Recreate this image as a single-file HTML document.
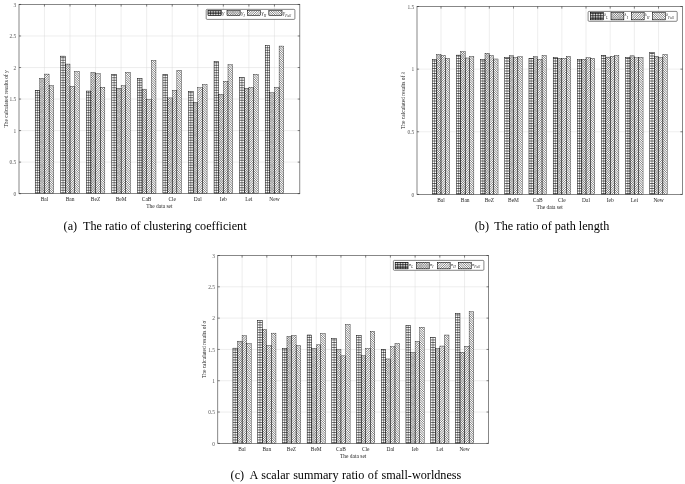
<!DOCTYPE html>
<html><head><meta charset="utf-8"><title>Figure</title>
<style>
html,body{margin:0;padding:0;background:#fff;}
svg{display:block;}
text{font-family:"Liberation Serif",serif;fill:#262626;}
.t{font-size:5.45px;}
.cap{font-size:12.2px;fill:#000;}
.n{fill:#555;}
.h{stroke:#000;fill:none;}
</style></head><body>
<svg width="685" height="484" viewBox="0 0 685 484">
<rect width="685" height="484" fill="#fff"/>

<g>
<path d="M44.45 4.45V193.65M70.01 4.45V193.65M95.56 4.45V193.65M121.12 4.45V193.65M146.67 4.45V193.65M172.23 4.45V193.65M197.79 4.45V193.65M223.34 4.45V193.65M248.9 4.45V193.65M274.45 4.45V193.65M19 162.12H299.8M19 130.58H299.8M19 99.05H299.8M19 67.52H299.8M19 35.98H299.8" stroke="#d8d8d8" stroke-width="0.45" fill="none"/>
<rect x="206.2" y="9.35" width="88.7" height="10.05" rx="1" fill="#fff" stroke="#333" stroke-width="0.6"/>
<g fill="#fff"><rect x="35.16" y="90.22" width="4.64" height="103.43"/><rect x="60.72" y="56.1" width="4.64" height="137.55"/><rect x="86.27" y="91.04" width="4.64" height="102.61"/><rect x="111.83" y="74.26" width="4.64" height="119.39"/><rect x="137.38" y="78.36" width="4.64" height="115.29"/><rect x="162.94" y="74.26" width="4.64" height="119.39"/><rect x="188.5" y="91.23" width="4.64" height="102.42"/><rect x="214.05" y="61.4" width="4.64" height="132.25"/><rect x="239.61" y="77.54" width="4.64" height="116.11"/><rect x="265.16" y="45.7" width="4.64" height="147.95"/><rect x="208" y="10.75" width="13.1" height="4.85"/><rect x="39.81" y="78.36" width="4.64" height="115.29"/><rect x="65.36" y="64.05" width="4.64" height="129.6"/><rect x="90.92" y="72.44" width="4.64" height="121.21"/><rect x="116.47" y="88.33" width="4.64" height="105.32"/><rect x="142.03" y="89.15" width="4.64" height="104.5"/><rect x="167.59" y="97.91" width="4.64" height="95.74"/><rect x="193.14" y="102.2" width="4.64" height="91.45"/><rect x="218.7" y="94.32" width="4.64" height="99.33"/><rect x="244.25" y="88.33" width="4.64" height="105.32"/><rect x="269.81" y="92.81" width="4.64" height="100.84"/><rect x="227" y="10.75" width="13.1" height="4.85"/><rect x="44.45" y="74.08" width="4.64" height="119.57"/><rect x="70.01" y="86.31" width="4.64" height="107.34"/><rect x="95.56" y="73.63" width="4.64" height="120.02"/><rect x="121.12" y="85.74" width="4.64" height="107.91"/><rect x="146.67" y="99.43" width="4.64" height="94.22"/><rect x="172.23" y="90.22" width="4.64" height="103.43"/><rect x="197.79" y="87.7" width="4.64" height="105.95"/><rect x="223.34" y="81.2" width="4.64" height="112.45"/><rect x="248.9" y="87.32" width="4.64" height="106.33"/><rect x="274.45" y="87.32" width="4.64" height="106.33"/><rect x="247.4" y="10.75" width="13.1" height="4.85"/><rect x="49.09" y="85.55" width="4.64" height="108.1"/><rect x="74.65" y="71.62" width="4.64" height="122.03"/><rect x="100.21" y="87.32" width="4.64" height="106.33"/><rect x="125.76" y="72.25" width="4.64" height="121.4"/><rect x="151.32" y="60.58" width="4.64" height="133.07"/><rect x="176.87" y="70.35" width="4.64" height="123.3"/><rect x="202.43" y="84.42" width="4.64" height="109.23"/><rect x="227.99" y="64.68" width="4.64" height="128.97"/><rect x="253.54" y="74.26" width="4.64" height="119.39"/><rect x="279.1" y="46.07" width="4.64" height="147.58"/><rect x="268.9" y="10.75" width="13.1" height="4.85"/></g>
<defs>
<clipPath id="c00"><rect x="35.16" y="90.22" width="4.64" height="103.43"/><rect x="60.72" y="56.1" width="4.64" height="137.55"/><rect x="86.27" y="91.04" width="4.64" height="102.61"/><rect x="111.83" y="74.26" width="4.64" height="119.39"/><rect x="137.38" y="78.36" width="4.64" height="115.29"/><rect x="162.94" y="74.26" width="4.64" height="119.39"/><rect x="188.5" y="91.23" width="4.64" height="102.42"/><rect x="214.05" y="61.4" width="4.64" height="132.25"/><rect x="239.61" y="77.54" width="4.64" height="116.11"/><rect x="265.16" y="45.7" width="4.64" height="147.95"/><rect x="208" y="10.75" width="13.1" height="4.85"/></clipPath>
<clipPath id="c01"><rect x="39.81" y="78.36" width="4.64" height="115.29"/><rect x="65.36" y="64.05" width="4.64" height="129.6"/><rect x="90.92" y="72.44" width="4.64" height="121.21"/><rect x="116.47" y="88.33" width="4.64" height="105.32"/><rect x="142.03" y="89.15" width="4.64" height="104.5"/><rect x="167.59" y="97.91" width="4.64" height="95.74"/><rect x="193.14" y="102.2" width="4.64" height="91.45"/><rect x="218.7" y="94.32" width="4.64" height="99.33"/><rect x="244.25" y="88.33" width="4.64" height="105.32"/><rect x="269.81" y="92.81" width="4.64" height="100.84"/><rect x="227" y="10.75" width="13.1" height="4.85"/></clipPath>
<clipPath id="c02"><rect x="44.45" y="74.08" width="4.64" height="119.57"/><rect x="70.01" y="86.31" width="4.64" height="107.34"/><rect x="95.56" y="73.63" width="4.64" height="120.02"/><rect x="121.12" y="85.74" width="4.64" height="107.91"/><rect x="146.67" y="99.43" width="4.64" height="94.22"/><rect x="172.23" y="90.22" width="4.64" height="103.43"/><rect x="197.79" y="87.7" width="4.64" height="105.95"/><rect x="223.34" y="81.2" width="4.64" height="112.45"/><rect x="248.9" y="87.32" width="4.64" height="106.33"/><rect x="274.45" y="87.32" width="4.64" height="106.33"/><rect x="247.4" y="10.75" width="13.1" height="4.85"/></clipPath>
<clipPath id="c03"><rect x="49.09" y="85.55" width="4.64" height="108.1"/><rect x="74.65" y="71.62" width="4.64" height="122.03"/><rect x="100.21" y="87.32" width="4.64" height="106.33"/><rect x="125.76" y="72.25" width="4.64" height="121.4"/><rect x="151.32" y="60.58" width="4.64" height="133.07"/><rect x="176.87" y="70.35" width="4.64" height="123.3"/><rect x="202.43" y="84.42" width="4.64" height="109.23"/><rect x="227.99" y="64.68" width="4.64" height="128.97"/><rect x="253.54" y="74.26" width="4.64" height="119.39"/><rect x="279.1" y="46.07" width="4.64" height="147.58"/><rect x="268.9" y="10.75" width="13.1" height="4.85"/></clipPath>
</defs>
<g clip-path="url(#c00)"><path class="h" stroke-width="0.58" d="M19 192.75H299.8M19 190.25H299.8M19 187.75H299.8M19 185.25H299.8M19 182.75H299.8M19 180.25H299.8M19 177.75H299.8M19 175.25H299.8M19 172.75H299.8M19 170.25H299.8M19 167.75H299.8M19 165.25H299.8M19 162.75H299.8M19 160.25H299.8M19 157.75H299.8M19 155.25H299.8M19 152.75H299.8M19 150.25H299.8M19 147.75H299.8M19 145.25H299.8M19 142.75H299.8M19 140.25H299.8M19 137.75H299.8M19 135.25H299.8M19 132.75H299.8M19 130.25H299.8M19 127.75H299.8M19 125.25H299.8M19 122.75H299.8M19 120.25H299.8M19 117.75H299.8M19 115.25H299.8M19 112.75H299.8M19 110.25H299.8M19 107.75H299.8M19 105.25H299.8M19 102.75H299.8M19 100.25H299.8M19 97.75H299.8M19 95.25H299.8M19 92.75H299.8M19 90.25H299.8M19 87.75H299.8M19 85.25H299.8M19 82.75H299.8M19 80.25H299.8M19 77.75H299.8M19 75.25H299.8M19 72.75H299.8M19 70.25H299.8M19 67.75H299.8M19 65.25H299.8M19 62.75H299.8M19 60.25H299.8M19 57.75H299.8M19 55.25H299.8M19 52.75H299.8M19 50.25H299.8M19 47.75H299.8M19 45.25H299.8M19 42.75H299.8M19 40.25H299.8M19 37.75H299.8M19 35.25H299.8M19 32.75H299.8M19 30.25H299.8M19 27.75H299.8M19 25.25H299.8M19 22.75H299.8M19 20.25H299.8M19 17.75H299.8M19 15.25H299.8M19 12.75H299.8M19 10.25H299.8"/><path class="h" stroke-width="0.4" d="M37.48 90.22V193.65M63.04 56.1V193.65M88.59 91.04V193.65M114.15 74.26V193.65M139.71 78.36V193.65M165.26 74.26V193.65M190.82 91.23V193.65M216.37 61.4V193.65M241.93 77.54V193.65M267.49 45.7V193.65"/><path class="h" stroke-width="0.6" d="M210.6 10.75V15.6M213.2 10.75V15.6M215.8 10.75V15.6M218.4 10.75V15.6M221 10.75V15.6M208 13.45H221.1M208 10.95H221.1"/></g>
<g clip-path="url(#c01)"><path class="h" stroke-width="0.35" d="M-164.9 193.65l183.9 -183.9M-162.6 193.65l183.9 -183.9M-160.3 193.65l183.9 -183.9M-158 193.65l183.9 -183.9M-155.7 193.65l183.9 -183.9M-153.4 193.65l183.9 -183.9M-151.1 193.65l183.9 -183.9M-148.8 193.65l183.9 -183.9M-146.5 193.65l183.9 -183.9M-144.2 193.65l183.9 -183.9M-141.9 193.65l183.9 -183.9M-139.6 193.65l183.9 -183.9M-137.3 193.65l183.9 -183.9M-135 193.65l183.9 -183.9M-132.7 193.65l183.9 -183.9M-130.4 193.65l183.9 -183.9M-128.1 193.65l183.9 -183.9M-125.8 193.65l183.9 -183.9M-123.5 193.65l183.9 -183.9M-121.2 193.65l183.9 -183.9M-118.9 193.65l183.9 -183.9M-116.6 193.65l183.9 -183.9M-114.3 193.65l183.9 -183.9M-112 193.65l183.9 -183.9M-109.7 193.65l183.9 -183.9M-107.4 193.65l183.9 -183.9M-105.1 193.65l183.9 -183.9M-102.8 193.65l183.9 -183.9M-100.5 193.65l183.9 -183.9M-98.2 193.65l183.9 -183.9M-95.9 193.65l183.9 -183.9M-93.6 193.65l183.9 -183.9M-91.3 193.65l183.9 -183.9M-89 193.65l183.9 -183.9M-86.7 193.65l183.9 -183.9M-84.4 193.65l183.9 -183.9M-82.1 193.65l183.9 -183.9M-79.8 193.65l183.9 -183.9M-77.5 193.65l183.9 -183.9M-75.2 193.65l183.9 -183.9M-72.9 193.65l183.9 -183.9M-70.6 193.65l183.9 -183.9M-68.3 193.65l183.9 -183.9M-66 193.65l183.9 -183.9M-63.7 193.65l183.9 -183.9M-61.4 193.65l183.9 -183.9M-59.1 193.65l183.9 -183.9M-56.8 193.65l183.9 -183.9M-54.5 193.65l183.9 -183.9M-52.2 193.65l183.9 -183.9M-49.9 193.65l183.9 -183.9M-47.6 193.65l183.9 -183.9M-45.3 193.65l183.9 -183.9M-43 193.65l183.9 -183.9M-40.7 193.65l183.9 -183.9M-38.4 193.65l183.9 -183.9M-36.1 193.65l183.9 -183.9M-33.8 193.65l183.9 -183.9M-31.5 193.65l183.9 -183.9M-29.2 193.65l183.9 -183.9M-26.9 193.65l183.9 -183.9M-24.6 193.65l183.9 -183.9M-22.3 193.65l183.9 -183.9M-20 193.65l183.9 -183.9M-17.7 193.65l183.9 -183.9M-15.4 193.65l183.9 -183.9M-13.1 193.65l183.9 -183.9M-10.8 193.65l183.9 -183.9M-8.5 193.65l183.9 -183.9M-6.2 193.65l183.9 -183.9M-3.9 193.65l183.9 -183.9M-1.6 193.65l183.9 -183.9M0.7 193.65l183.9 -183.9M3 193.65l183.9 -183.9M5.3 193.65l183.9 -183.9M7.6 193.65l183.9 -183.9M9.9 193.65l183.9 -183.9M12.2 193.65l183.9 -183.9M14.5 193.65l183.9 -183.9M16.8 193.65l183.9 -183.9M19.1 193.65l183.9 -183.9M21.4 193.65l183.9 -183.9M23.7 193.65l183.9 -183.9M26 193.65l183.9 -183.9M28.3 193.65l183.9 -183.9M30.6 193.65l183.9 -183.9M32.9 193.65l183.9 -183.9M35.2 193.65l183.9 -183.9M37.5 193.65l183.9 -183.9M39.8 193.65l183.9 -183.9M42.1 193.65l183.9 -183.9M44.4 193.65l183.9 -183.9M46.7 193.65l183.9 -183.9M49 193.65l183.9 -183.9M51.3 193.65l183.9 -183.9M53.6 193.65l183.9 -183.9M55.9 193.65l183.9 -183.9M58.2 193.65l183.9 -183.9M60.5 193.65l183.9 -183.9M62.8 193.65l183.9 -183.9M65.1 193.65l183.9 -183.9M67.4 193.65l183.9 -183.9M69.7 193.65l183.9 -183.9M72 193.65l183.9 -183.9M74.3 193.65l183.9 -183.9M76.6 193.65l183.9 -183.9M78.9 193.65l183.9 -183.9M81.2 193.65l183.9 -183.9M83.5 193.65l183.9 -183.9M85.8 193.65l183.9 -183.9M88.1 193.65l183.9 -183.9M90.4 193.65l183.9 -183.9M92.7 193.65l183.9 -183.9M95 193.65l183.9 -183.9M97.3 193.65l183.9 -183.9M99.6 193.65l183.9 -183.9M101.9 193.65l183.9 -183.9M104.2 193.65l183.9 -183.9M106.5 193.65l183.9 -183.9M108.8 193.65l183.9 -183.9M111.1 193.65l183.9 -183.9M113.4 193.65l183.9 -183.9M115.7 193.65l183.9 -183.9M118 193.65l183.9 -183.9M120.3 193.65l183.9 -183.9M122.6 193.65l183.9 -183.9M124.9 193.65l183.9 -183.9M127.2 193.65l183.9 -183.9M129.5 193.65l183.9 -183.9M131.8 193.65l183.9 -183.9M134.1 193.65l183.9 -183.9M136.4 193.65l183.9 -183.9M138.7 193.65l183.9 -183.9M141 193.65l183.9 -183.9M143.3 193.65l183.9 -183.9M145.6 193.65l183.9 -183.9M147.9 193.65l183.9 -183.9M150.2 193.65l183.9 -183.9M152.5 193.65l183.9 -183.9M154.8 193.65l183.9 -183.9M157.1 193.65l183.9 -183.9M159.4 193.65l183.9 -183.9M161.7 193.65l183.9 -183.9M164 193.65l183.9 -183.9M166.3 193.65l183.9 -183.9M168.6 193.65l183.9 -183.9M170.9 193.65l183.9 -183.9M173.2 193.65l183.9 -183.9M175.5 193.65l183.9 -183.9M177.8 193.65l183.9 -183.9M180.1 193.65l183.9 -183.9M182.4 193.65l183.9 -183.9M184.7 193.65l183.9 -183.9M187 193.65l183.9 -183.9M189.3 193.65l183.9 -183.9M191.6 193.65l183.9 -183.9M193.9 193.65l183.9 -183.9M196.2 193.65l183.9 -183.9M198.5 193.65l183.9 -183.9M200.8 193.65l183.9 -183.9M203.1 193.65l183.9 -183.9M205.4 193.65l183.9 -183.9M207.7 193.65l183.9 -183.9M210 193.65l183.9 -183.9M212.3 193.65l183.9 -183.9M214.6 193.65l183.9 -183.9M216.9 193.65l183.9 -183.9M219.2 193.65l183.9 -183.9M221.5 193.65l183.9 -183.9M223.8 193.65l183.9 -183.9M226.1 193.65l183.9 -183.9M228.4 193.65l183.9 -183.9M230.7 193.65l183.9 -183.9M233 193.65l183.9 -183.9M235.3 193.65l183.9 -183.9M237.6 193.65l183.9 -183.9M239.9 193.65l183.9 -183.9M242.2 193.65l183.9 -183.9M244.5 193.65l183.9 -183.9M246.8 193.65l183.9 -183.9M249.1 193.65l183.9 -183.9M251.4 193.65l183.9 -183.9M253.7 193.65l183.9 -183.9M256 193.65l183.9 -183.9M258.3 193.65l183.9 -183.9M260.6 193.65l183.9 -183.9M262.9 193.65l183.9 -183.9M265.2 193.65l183.9 -183.9M267.5 193.65l183.9 -183.9M269.8 193.65l183.9 -183.9M272.1 193.65l183.9 -183.9M274.4 193.65l183.9 -183.9M276.7 193.65l183.9 -183.9M279 193.65l183.9 -183.9M281.3 193.65l183.9 -183.9M283.6 193.65l183.9 -183.9M285.9 193.65l183.9 -183.9M288.2 193.65l183.9 -183.9M290.5 193.65l183.9 -183.9M292.8 193.65l183.9 -183.9M295.1 193.65l183.9 -183.9M297.4 193.65l183.9 -183.9M299.7 193.65l183.9 -183.9M-164.9 9.75l183.9 183.9M-162.6 9.75l183.9 183.9M-160.3 9.75l183.9 183.9M-158 9.75l183.9 183.9M-155.7 9.75l183.9 183.9M-153.4 9.75l183.9 183.9M-151.1 9.75l183.9 183.9M-148.8 9.75l183.9 183.9M-146.5 9.75l183.9 183.9M-144.2 9.75l183.9 183.9M-141.9 9.75l183.9 183.9M-139.6 9.75l183.9 183.9M-137.3 9.75l183.9 183.9M-135 9.75l183.9 183.9M-132.7 9.75l183.9 183.9M-130.4 9.75l183.9 183.9M-128.1 9.75l183.9 183.9M-125.8 9.75l183.9 183.9M-123.5 9.75l183.9 183.9M-121.2 9.75l183.9 183.9M-118.9 9.75l183.9 183.9M-116.6 9.75l183.9 183.9M-114.3 9.75l183.9 183.9M-112 9.75l183.9 183.9M-109.7 9.75l183.9 183.9M-107.4 9.75l183.9 183.9M-105.1 9.75l183.9 183.9M-102.8 9.75l183.9 183.9M-100.5 9.75l183.9 183.9M-98.2 9.75l183.9 183.9M-95.9 9.75l183.9 183.9M-93.6 9.75l183.9 183.9M-91.3 9.75l183.9 183.9M-89 9.75l183.9 183.9M-86.7 9.75l183.9 183.9M-84.4 9.75l183.9 183.9M-82.1 9.75l183.9 183.9M-79.8 9.75l183.9 183.9M-77.5 9.75l183.9 183.9M-75.2 9.75l183.9 183.9M-72.9 9.75l183.9 183.9M-70.6 9.75l183.9 183.9M-68.3 9.75l183.9 183.9M-66 9.75l183.9 183.9M-63.7 9.75l183.9 183.9M-61.4 9.75l183.9 183.9M-59.1 9.75l183.9 183.9M-56.8 9.75l183.9 183.9M-54.5 9.75l183.9 183.9M-52.2 9.75l183.9 183.9M-49.9 9.75l183.9 183.9M-47.6 9.75l183.9 183.9M-45.3 9.75l183.9 183.9M-43 9.75l183.9 183.9M-40.7 9.75l183.9 183.9M-38.4 9.75l183.9 183.9M-36.1 9.75l183.9 183.9M-33.8 9.75l183.9 183.9M-31.5 9.75l183.9 183.9M-29.2 9.75l183.9 183.9M-26.9 9.75l183.9 183.9M-24.6 9.75l183.9 183.9M-22.3 9.75l183.9 183.9M-20 9.75l183.9 183.9M-17.7 9.75l183.9 183.9M-15.4 9.75l183.9 183.9M-13.1 9.75l183.9 183.9M-10.8 9.75l183.9 183.9M-8.5 9.75l183.9 183.9M-6.2 9.75l183.9 183.9M-3.9 9.75l183.9 183.9M-1.6 9.75l183.9 183.9M0.7 9.75l183.9 183.9M3 9.75l183.9 183.9M5.3 9.75l183.9 183.9M7.6 9.75l183.9 183.9M9.9 9.75l183.9 183.9M12.2 9.75l183.9 183.9M14.5 9.75l183.9 183.9M16.8 9.75l183.9 183.9M19.1 9.75l183.9 183.9M21.4 9.75l183.9 183.9M23.7 9.75l183.9 183.9M26 9.75l183.9 183.9M28.3 9.75l183.9 183.9M30.6 9.75l183.9 183.9M32.9 9.75l183.9 183.9M35.2 9.75l183.9 183.9M37.5 9.75l183.9 183.9M39.8 9.75l183.9 183.9M42.1 9.75l183.9 183.9M44.4 9.75l183.9 183.9M46.7 9.75l183.9 183.9M49 9.75l183.9 183.9M51.3 9.75l183.9 183.9M53.6 9.75l183.9 183.9M55.9 9.75l183.9 183.9M58.2 9.75l183.9 183.9M60.5 9.75l183.9 183.9M62.8 9.75l183.9 183.9M65.1 9.75l183.9 183.9M67.4 9.75l183.9 183.9M69.7 9.75l183.9 183.9M72 9.75l183.9 183.9M74.3 9.75l183.9 183.9M76.6 9.75l183.9 183.9M78.9 9.75l183.9 183.9M81.2 9.75l183.9 183.9M83.5 9.75l183.9 183.9M85.8 9.75l183.9 183.9M88.1 9.75l183.9 183.9M90.4 9.75l183.9 183.9M92.7 9.75l183.9 183.9M95 9.75l183.9 183.9M97.3 9.75l183.9 183.9M99.6 9.75l183.9 183.9M101.9 9.75l183.9 183.9M104.2 9.75l183.9 183.9M106.5 9.75l183.9 183.9M108.8 9.75l183.9 183.9M111.1 9.75l183.9 183.9M113.4 9.75l183.9 183.9M115.7 9.75l183.9 183.9M118 9.75l183.9 183.9M120.3 9.75l183.9 183.9M122.6 9.75l183.9 183.9M124.9 9.75l183.9 183.9M127.2 9.75l183.9 183.9M129.5 9.75l183.9 183.9M131.8 9.75l183.9 183.9M134.1 9.75l183.9 183.9M136.4 9.75l183.9 183.9M138.7 9.75l183.9 183.9M141 9.75l183.9 183.9M143.3 9.75l183.9 183.9M145.6 9.75l183.9 183.9M147.9 9.75l183.9 183.9M150.2 9.75l183.9 183.9M152.5 9.75l183.9 183.9M154.8 9.75l183.9 183.9M157.1 9.75l183.9 183.9M159.4 9.75l183.9 183.9M161.7 9.75l183.9 183.9M164 9.75l183.9 183.9M166.3 9.75l183.9 183.9M168.6 9.75l183.9 183.9M170.9 9.75l183.9 183.9M173.2 9.75l183.9 183.9M175.5 9.75l183.9 183.9M177.8 9.75l183.9 183.9M180.1 9.75l183.9 183.9M182.4 9.75l183.9 183.9M184.7 9.75l183.9 183.9M187 9.75l183.9 183.9M189.3 9.75l183.9 183.9M191.6 9.75l183.9 183.9M193.9 9.75l183.9 183.9M196.2 9.75l183.9 183.9M198.5 9.75l183.9 183.9M200.8 9.75l183.9 183.9M203.1 9.75l183.9 183.9M205.4 9.75l183.9 183.9M207.7 9.75l183.9 183.9M210 9.75l183.9 183.9M212.3 9.75l183.9 183.9M214.6 9.75l183.9 183.9M216.9 9.75l183.9 183.9M219.2 9.75l183.9 183.9M221.5 9.75l183.9 183.9M223.8 9.75l183.9 183.9M226.1 9.75l183.9 183.9M228.4 9.75l183.9 183.9M230.7 9.75l183.9 183.9M233 9.75l183.9 183.9M235.3 9.75l183.9 183.9M237.6 9.75l183.9 183.9M239.9 9.75l183.9 183.9M242.2 9.75l183.9 183.9M244.5 9.75l183.9 183.9M246.8 9.75l183.9 183.9M249.1 9.75l183.9 183.9M251.4 9.75l183.9 183.9M253.7 9.75l183.9 183.9M256 9.75l183.9 183.9M258.3 9.75l183.9 183.9M260.6 9.75l183.9 183.9M262.9 9.75l183.9 183.9M265.2 9.75l183.9 183.9M267.5 9.75l183.9 183.9M269.8 9.75l183.9 183.9M272.1 9.75l183.9 183.9M274.4 9.75l183.9 183.9M276.7 9.75l183.9 183.9M279 9.75l183.9 183.9M281.3 9.75l183.9 183.9M283.6 9.75l183.9 183.9M285.9 9.75l183.9 183.9M288.2 9.75l183.9 183.9M290.5 9.75l183.9 183.9M292.8 9.75l183.9 183.9M295.1 9.75l183.9 183.9M297.4 9.75l183.9 183.9M299.7 9.75l183.9 183.9"/></g>
<g clip-path="url(#c02)"><path class="h" stroke-width="0.5" d="M-164.9 193.65l183.9 -183.9M-162.6 193.65l183.9 -183.9M-160.3 193.65l183.9 -183.9M-158 193.65l183.9 -183.9M-155.7 193.65l183.9 -183.9M-153.4 193.65l183.9 -183.9M-151.1 193.65l183.9 -183.9M-148.8 193.65l183.9 -183.9M-146.5 193.65l183.9 -183.9M-144.2 193.65l183.9 -183.9M-141.9 193.65l183.9 -183.9M-139.6 193.65l183.9 -183.9M-137.3 193.65l183.9 -183.9M-135 193.65l183.9 -183.9M-132.7 193.65l183.9 -183.9M-130.4 193.65l183.9 -183.9M-128.1 193.65l183.9 -183.9M-125.8 193.65l183.9 -183.9M-123.5 193.65l183.9 -183.9M-121.2 193.65l183.9 -183.9M-118.9 193.65l183.9 -183.9M-116.6 193.65l183.9 -183.9M-114.3 193.65l183.9 -183.9M-112 193.65l183.9 -183.9M-109.7 193.65l183.9 -183.9M-107.4 193.65l183.9 -183.9M-105.1 193.65l183.9 -183.9M-102.8 193.65l183.9 -183.9M-100.5 193.65l183.9 -183.9M-98.2 193.65l183.9 -183.9M-95.9 193.65l183.9 -183.9M-93.6 193.65l183.9 -183.9M-91.3 193.65l183.9 -183.9M-89 193.65l183.9 -183.9M-86.7 193.65l183.9 -183.9M-84.4 193.65l183.9 -183.9M-82.1 193.65l183.9 -183.9M-79.8 193.65l183.9 -183.9M-77.5 193.65l183.9 -183.9M-75.2 193.65l183.9 -183.9M-72.9 193.65l183.9 -183.9M-70.6 193.65l183.9 -183.9M-68.3 193.65l183.9 -183.9M-66 193.65l183.9 -183.9M-63.7 193.65l183.9 -183.9M-61.4 193.65l183.9 -183.9M-59.1 193.65l183.9 -183.9M-56.8 193.65l183.9 -183.9M-54.5 193.65l183.9 -183.9M-52.2 193.65l183.9 -183.9M-49.9 193.65l183.9 -183.9M-47.6 193.65l183.9 -183.9M-45.3 193.65l183.9 -183.9M-43 193.65l183.9 -183.9M-40.7 193.65l183.9 -183.9M-38.4 193.65l183.9 -183.9M-36.1 193.65l183.9 -183.9M-33.8 193.65l183.9 -183.9M-31.5 193.65l183.9 -183.9M-29.2 193.65l183.9 -183.9M-26.9 193.65l183.9 -183.9M-24.6 193.65l183.9 -183.9M-22.3 193.65l183.9 -183.9M-20 193.65l183.9 -183.9M-17.7 193.65l183.9 -183.9M-15.4 193.65l183.9 -183.9M-13.1 193.65l183.9 -183.9M-10.8 193.65l183.9 -183.9M-8.5 193.65l183.9 -183.9M-6.2 193.65l183.9 -183.9M-3.9 193.65l183.9 -183.9M-1.6 193.65l183.9 -183.9M0.7 193.65l183.9 -183.9M3 193.65l183.9 -183.9M5.3 193.65l183.9 -183.9M7.6 193.65l183.9 -183.9M9.9 193.65l183.9 -183.9M12.2 193.65l183.9 -183.9M14.5 193.65l183.9 -183.9M16.8 193.65l183.9 -183.9M19.1 193.65l183.9 -183.9M21.4 193.65l183.9 -183.9M23.7 193.65l183.9 -183.9M26 193.65l183.9 -183.9M28.3 193.65l183.9 -183.9M30.6 193.65l183.9 -183.9M32.9 193.65l183.9 -183.9M35.2 193.65l183.9 -183.9M37.5 193.65l183.9 -183.9M39.8 193.65l183.9 -183.9M42.1 193.65l183.9 -183.9M44.4 193.65l183.9 -183.9M46.7 193.65l183.9 -183.9M49 193.65l183.9 -183.9M51.3 193.65l183.9 -183.9M53.6 193.65l183.9 -183.9M55.9 193.65l183.9 -183.9M58.2 193.65l183.9 -183.9M60.5 193.65l183.9 -183.9M62.8 193.65l183.9 -183.9M65.1 193.65l183.9 -183.9M67.4 193.65l183.9 -183.9M69.7 193.65l183.9 -183.9M72 193.65l183.9 -183.9M74.3 193.65l183.9 -183.9M76.6 193.65l183.9 -183.9M78.9 193.65l183.9 -183.9M81.2 193.65l183.9 -183.9M83.5 193.65l183.9 -183.9M85.8 193.65l183.9 -183.9M88.1 193.65l183.9 -183.9M90.4 193.65l183.9 -183.9M92.7 193.65l183.9 -183.9M95 193.65l183.9 -183.9M97.3 193.65l183.9 -183.9M99.6 193.65l183.9 -183.9M101.9 193.65l183.9 -183.9M104.2 193.65l183.9 -183.9M106.5 193.65l183.9 -183.9M108.8 193.65l183.9 -183.9M111.1 193.65l183.9 -183.9M113.4 193.65l183.9 -183.9M115.7 193.65l183.9 -183.9M118 193.65l183.9 -183.9M120.3 193.65l183.9 -183.9M122.6 193.65l183.9 -183.9M124.9 193.65l183.9 -183.9M127.2 193.65l183.9 -183.9M129.5 193.65l183.9 -183.9M131.8 193.65l183.9 -183.9M134.1 193.65l183.9 -183.9M136.4 193.65l183.9 -183.9M138.7 193.65l183.9 -183.9M141 193.65l183.9 -183.9M143.3 193.65l183.9 -183.9M145.6 193.65l183.9 -183.9M147.9 193.65l183.9 -183.9M150.2 193.65l183.9 -183.9M152.5 193.65l183.9 -183.9M154.8 193.65l183.9 -183.9M157.1 193.65l183.9 -183.9M159.4 193.65l183.9 -183.9M161.7 193.65l183.9 -183.9M164 193.65l183.9 -183.9M166.3 193.65l183.9 -183.9M168.6 193.65l183.9 -183.9M170.9 193.65l183.9 -183.9M173.2 193.65l183.9 -183.9M175.5 193.65l183.9 -183.9M177.8 193.65l183.9 -183.9M180.1 193.65l183.9 -183.9M182.4 193.65l183.9 -183.9M184.7 193.65l183.9 -183.9M187 193.65l183.9 -183.9M189.3 193.65l183.9 -183.9M191.6 193.65l183.9 -183.9M193.9 193.65l183.9 -183.9M196.2 193.65l183.9 -183.9M198.5 193.65l183.9 -183.9M200.8 193.65l183.9 -183.9M203.1 193.65l183.9 -183.9M205.4 193.65l183.9 -183.9M207.7 193.65l183.9 -183.9M210 193.65l183.9 -183.9M212.3 193.65l183.9 -183.9M214.6 193.65l183.9 -183.9M216.9 193.65l183.9 -183.9M219.2 193.65l183.9 -183.9M221.5 193.65l183.9 -183.9M223.8 193.65l183.9 -183.9M226.1 193.65l183.9 -183.9M228.4 193.65l183.9 -183.9M230.7 193.65l183.9 -183.9M233 193.65l183.9 -183.9M235.3 193.65l183.9 -183.9M237.6 193.65l183.9 -183.9M239.9 193.65l183.9 -183.9M242.2 193.65l183.9 -183.9M244.5 193.65l183.9 -183.9M246.8 193.65l183.9 -183.9M249.1 193.65l183.9 -183.9M251.4 193.65l183.9 -183.9M253.7 193.65l183.9 -183.9M256 193.65l183.9 -183.9M258.3 193.65l183.9 -183.9M260.6 193.65l183.9 -183.9M262.9 193.65l183.9 -183.9M265.2 193.65l183.9 -183.9M267.5 193.65l183.9 -183.9M269.8 193.65l183.9 -183.9M272.1 193.65l183.9 -183.9M274.4 193.65l183.9 -183.9M276.7 193.65l183.9 -183.9M279 193.65l183.9 -183.9M281.3 193.65l183.9 -183.9M283.6 193.65l183.9 -183.9M285.9 193.65l183.9 -183.9M288.2 193.65l183.9 -183.9M290.5 193.65l183.9 -183.9M292.8 193.65l183.9 -183.9M295.1 193.65l183.9 -183.9M297.4 193.65l183.9 -183.9M299.7 193.65l183.9 -183.9"/></g>
<g clip-path="url(#c03)"><path class="h" stroke-width="0.5" d="M-164.9 9.75l183.9 183.9M-162.6 9.75l183.9 183.9M-160.3 9.75l183.9 183.9M-158 9.75l183.9 183.9M-155.7 9.75l183.9 183.9M-153.4 9.75l183.9 183.9M-151.1 9.75l183.9 183.9M-148.8 9.75l183.9 183.9M-146.5 9.75l183.9 183.9M-144.2 9.75l183.9 183.9M-141.9 9.75l183.9 183.9M-139.6 9.75l183.9 183.9M-137.3 9.75l183.9 183.9M-135 9.75l183.9 183.9M-132.7 9.75l183.9 183.9M-130.4 9.75l183.9 183.9M-128.1 9.75l183.9 183.9M-125.8 9.75l183.9 183.9M-123.5 9.75l183.9 183.9M-121.2 9.75l183.9 183.9M-118.9 9.75l183.9 183.9M-116.6 9.75l183.9 183.9M-114.3 9.75l183.9 183.9M-112 9.75l183.9 183.9M-109.7 9.75l183.9 183.9M-107.4 9.75l183.9 183.9M-105.1 9.75l183.9 183.9M-102.8 9.75l183.9 183.9M-100.5 9.75l183.9 183.9M-98.2 9.75l183.9 183.9M-95.9 9.75l183.9 183.9M-93.6 9.75l183.9 183.9M-91.3 9.75l183.9 183.9M-89 9.75l183.9 183.9M-86.7 9.75l183.9 183.9M-84.4 9.75l183.9 183.9M-82.1 9.75l183.9 183.9M-79.8 9.75l183.9 183.9M-77.5 9.75l183.9 183.9M-75.2 9.75l183.9 183.9M-72.9 9.75l183.9 183.9M-70.6 9.75l183.9 183.9M-68.3 9.75l183.9 183.9M-66 9.75l183.9 183.9M-63.7 9.75l183.9 183.9M-61.4 9.75l183.9 183.9M-59.1 9.75l183.9 183.9M-56.8 9.75l183.9 183.9M-54.5 9.75l183.9 183.9M-52.2 9.75l183.9 183.9M-49.9 9.75l183.9 183.9M-47.6 9.75l183.9 183.9M-45.3 9.75l183.9 183.9M-43 9.75l183.9 183.9M-40.7 9.75l183.9 183.9M-38.4 9.75l183.9 183.9M-36.1 9.75l183.9 183.9M-33.8 9.75l183.9 183.9M-31.5 9.75l183.9 183.9M-29.2 9.75l183.9 183.9M-26.9 9.75l183.9 183.9M-24.6 9.75l183.9 183.9M-22.3 9.75l183.9 183.9M-20 9.75l183.9 183.9M-17.7 9.75l183.9 183.9M-15.4 9.75l183.9 183.9M-13.1 9.75l183.9 183.9M-10.8 9.75l183.9 183.9M-8.5 9.75l183.9 183.9M-6.2 9.75l183.9 183.9M-3.9 9.75l183.9 183.9M-1.6 9.75l183.9 183.9M0.7 9.75l183.9 183.9M3 9.75l183.9 183.9M5.3 9.75l183.9 183.9M7.6 9.75l183.9 183.9M9.9 9.75l183.9 183.9M12.2 9.75l183.9 183.9M14.5 9.75l183.9 183.9M16.8 9.75l183.9 183.9M19.1 9.75l183.9 183.9M21.4 9.75l183.9 183.9M23.7 9.75l183.9 183.9M26 9.75l183.9 183.9M28.3 9.75l183.9 183.9M30.6 9.75l183.9 183.9M32.9 9.75l183.9 183.9M35.2 9.75l183.9 183.9M37.5 9.75l183.9 183.9M39.8 9.75l183.9 183.9M42.1 9.75l183.9 183.9M44.4 9.75l183.9 183.9M46.7 9.75l183.9 183.9M49 9.75l183.9 183.9M51.3 9.75l183.9 183.9M53.6 9.75l183.9 183.9M55.9 9.75l183.9 183.9M58.2 9.75l183.9 183.9M60.5 9.75l183.9 183.9M62.8 9.75l183.9 183.9M65.1 9.75l183.9 183.9M67.4 9.75l183.9 183.9M69.7 9.75l183.9 183.9M72 9.75l183.9 183.9M74.3 9.75l183.9 183.9M76.6 9.75l183.9 183.9M78.9 9.75l183.9 183.9M81.2 9.75l183.9 183.9M83.5 9.75l183.9 183.9M85.8 9.75l183.9 183.9M88.1 9.75l183.9 183.9M90.4 9.75l183.9 183.9M92.7 9.75l183.9 183.9M95 9.75l183.9 183.9M97.3 9.75l183.9 183.9M99.6 9.75l183.9 183.9M101.9 9.75l183.9 183.9M104.2 9.75l183.9 183.9M106.5 9.75l183.9 183.9M108.8 9.75l183.9 183.9M111.1 9.75l183.9 183.9M113.4 9.75l183.9 183.9M115.7 9.75l183.9 183.9M118 9.75l183.9 183.9M120.3 9.75l183.9 183.9M122.6 9.75l183.9 183.9M124.9 9.75l183.9 183.9M127.2 9.75l183.9 183.9M129.5 9.75l183.9 183.9M131.8 9.75l183.9 183.9M134.1 9.75l183.9 183.9M136.4 9.75l183.9 183.9M138.7 9.75l183.9 183.9M141 9.75l183.9 183.9M143.3 9.75l183.9 183.9M145.6 9.75l183.9 183.9M147.9 9.75l183.9 183.9M150.2 9.75l183.9 183.9M152.5 9.75l183.9 183.9M154.8 9.75l183.9 183.9M157.1 9.75l183.9 183.9M159.4 9.75l183.9 183.9M161.7 9.75l183.9 183.9M164 9.75l183.9 183.9M166.3 9.75l183.9 183.9M168.6 9.75l183.9 183.9M170.9 9.75l183.9 183.9M173.2 9.75l183.9 183.9M175.5 9.75l183.9 183.9M177.8 9.75l183.9 183.9M180.1 9.75l183.9 183.9M182.4 9.75l183.9 183.9M184.7 9.75l183.9 183.9M187 9.75l183.9 183.9M189.3 9.75l183.9 183.9M191.6 9.75l183.9 183.9M193.9 9.75l183.9 183.9M196.2 9.75l183.9 183.9M198.5 9.75l183.9 183.9M200.8 9.75l183.9 183.9M203.1 9.75l183.9 183.9M205.4 9.75l183.9 183.9M207.7 9.75l183.9 183.9M210 9.75l183.9 183.9M212.3 9.75l183.9 183.9M214.6 9.75l183.9 183.9M216.9 9.75l183.9 183.9M219.2 9.75l183.9 183.9M221.5 9.75l183.9 183.9M223.8 9.75l183.9 183.9M226.1 9.75l183.9 183.9M228.4 9.75l183.9 183.9M230.7 9.75l183.9 183.9M233 9.75l183.9 183.9M235.3 9.75l183.9 183.9M237.6 9.75l183.9 183.9M239.9 9.75l183.9 183.9M242.2 9.75l183.9 183.9M244.5 9.75l183.9 183.9M246.8 9.75l183.9 183.9M249.1 9.75l183.9 183.9M251.4 9.75l183.9 183.9M253.7 9.75l183.9 183.9M256 9.75l183.9 183.9M258.3 9.75l183.9 183.9M260.6 9.75l183.9 183.9M262.9 9.75l183.9 183.9M265.2 9.75l183.9 183.9M267.5 9.75l183.9 183.9M269.8 9.75l183.9 183.9M272.1 9.75l183.9 183.9M274.4 9.75l183.9 183.9M276.7 9.75l183.9 183.9M279 9.75l183.9 183.9M281.3 9.75l183.9 183.9M283.6 9.75l183.9 183.9M285.9 9.75l183.9 183.9M288.2 9.75l183.9 183.9M290.5 9.75l183.9 183.9M292.8 9.75l183.9 183.9M295.1 9.75l183.9 183.9M297.4 9.75l183.9 183.9M299.7 9.75l183.9 183.9"/></g>
<g fill="none" stroke="#000" stroke-width="0.35"><rect x="35.16" y="90.22" width="4.64" height="103.43"/><rect x="60.72" y="56.1" width="4.64" height="137.55"/><rect x="86.27" y="91.04" width="4.64" height="102.61"/><rect x="111.83" y="74.26" width="4.64" height="119.39"/><rect x="137.38" y="78.36" width="4.64" height="115.29"/><rect x="162.94" y="74.26" width="4.64" height="119.39"/><rect x="188.5" y="91.23" width="4.64" height="102.42"/><rect x="214.05" y="61.4" width="4.64" height="132.25"/><rect x="239.61" y="77.54" width="4.64" height="116.11"/><rect x="265.16" y="45.7" width="4.64" height="147.95"/><rect x="208" y="10.75" width="13.1" height="4.85"/><rect x="39.81" y="78.36" width="4.64" height="115.29"/><rect x="65.36" y="64.05" width="4.64" height="129.6"/><rect x="90.92" y="72.44" width="4.64" height="121.21"/><rect x="116.47" y="88.33" width="4.64" height="105.32"/><rect x="142.03" y="89.15" width="4.64" height="104.5"/><rect x="167.59" y="97.91" width="4.64" height="95.74"/><rect x="193.14" y="102.2" width="4.64" height="91.45"/><rect x="218.7" y="94.32" width="4.64" height="99.33"/><rect x="244.25" y="88.33" width="4.64" height="105.32"/><rect x="269.81" y="92.81" width="4.64" height="100.84"/><rect x="227" y="10.75" width="13.1" height="4.85"/><rect x="44.45" y="74.08" width="4.64" height="119.57"/><rect x="70.01" y="86.31" width="4.64" height="107.34"/><rect x="95.56" y="73.63" width="4.64" height="120.02"/><rect x="121.12" y="85.74" width="4.64" height="107.91"/><rect x="146.67" y="99.43" width="4.64" height="94.22"/><rect x="172.23" y="90.22" width="4.64" height="103.43"/><rect x="197.79" y="87.7" width="4.64" height="105.95"/><rect x="223.34" y="81.2" width="4.64" height="112.45"/><rect x="248.9" y="87.32" width="4.64" height="106.33"/><rect x="274.45" y="87.32" width="4.64" height="106.33"/><rect x="247.4" y="10.75" width="13.1" height="4.85"/><rect x="49.09" y="85.55" width="4.64" height="108.1"/><rect x="74.65" y="71.62" width="4.64" height="122.03"/><rect x="100.21" y="87.32" width="4.64" height="106.33"/><rect x="125.76" y="72.25" width="4.64" height="121.4"/><rect x="151.32" y="60.58" width="4.64" height="133.07"/><rect x="176.87" y="70.35" width="4.64" height="123.3"/><rect x="202.43" y="84.42" width="4.64" height="109.23"/><rect x="227.99" y="64.68" width="4.64" height="128.97"/><rect x="253.54" y="74.26" width="4.64" height="119.39"/><rect x="279.1" y="46.07" width="4.64" height="147.58"/><rect x="268.9" y="10.75" width="13.1" height="4.85"/></g>
<g fill="none" stroke="#000" stroke-width="0.3"><rect x="208" y="10.75" width="13.1" height="4.85"/><rect x="227" y="10.75" width="13.1" height="4.85"/><rect x="247.4" y="10.75" width="13.1" height="4.85"/><rect x="268.9" y="10.75" width="13.1" height="4.85"/></g>
<g fill="none" stroke="#000" stroke-width="0.22"><rect x="35.16" y="90.22" width="4.64" height="103.43"/><rect x="60.72" y="56.1" width="4.64" height="137.55"/><rect x="86.27" y="91.04" width="4.64" height="102.61"/><rect x="111.83" y="74.26" width="4.64" height="119.39"/><rect x="137.38" y="78.36" width="4.64" height="115.29"/><rect x="162.94" y="74.26" width="4.64" height="119.39"/><rect x="188.5" y="91.23" width="4.64" height="102.42"/><rect x="214.05" y="61.4" width="4.64" height="132.25"/><rect x="239.61" y="77.54" width="4.64" height="116.11"/><rect x="265.16" y="45.7" width="4.64" height="147.95"/><rect x="208" y="10.75" width="13.1" height="4.85"/></g>
<rect x="19" y="4.45" width="280.8" height="189.2" fill="none" stroke="#555" stroke-width="0.7"/>
<path d="M44.45 193.65v-2.1M44.45 4.45v2.1M70.01 193.65v-2.1M70.01 4.45v2.1M95.56 193.65v-2.1M95.56 4.45v2.1M121.12 193.65v-2.1M121.12 4.45v2.1M146.67 193.65v-2.1M146.67 4.45v2.1M172.23 193.65v-2.1M172.23 4.45v2.1M197.79 193.65v-2.1M197.79 4.45v2.1M223.34 193.65v-2.1M223.34 4.45v2.1M248.9 193.65v-2.1M248.9 4.45v2.1M274.45 193.65v-2.1M274.45 4.45v2.1M19 193.65h2.1M299.8 193.65h-2.1M19 162.12h2.1M299.8 162.12h-2.1M19 130.58h2.1M299.8 130.58h-2.1M19 99.05h2.1M299.8 99.05h-2.1M19 67.52h2.1M299.8 67.52h-2.1M19 35.98h2.1M299.8 35.98h-2.1M19 4.45h2.1M299.8 4.45h-2.1" stroke="#222" stroke-width="0.55" fill="none"/>
<text class="t" x="44.45" y="201.35" text-anchor="middle">Bal</text>
<text class="t" x="70.01" y="201.35" text-anchor="middle">Ban</text>
<text class="t" x="95.56" y="201.35" text-anchor="middle">BeZ</text>
<text class="t" x="121.12" y="201.35" text-anchor="middle">BeM</text>
<text class="t" x="146.67" y="201.35" text-anchor="middle">CaB</text>
<text class="t" x="172.23" y="201.35" text-anchor="middle">Cle</text>
<text class="t" x="197.79" y="201.35" text-anchor="middle">Dal</text>
<text class="t" x="223.34" y="201.35" text-anchor="middle">Ieb</text>
<text class="t" x="248.9" y="201.35" text-anchor="middle">Lei</text>
<text class="t" x="274.45" y="201.35" text-anchor="middle">New</text>
<text class="t n" x="16.3" y="195.8" text-anchor="end">0</text>
<text class="t n" x="16.3" y="164.27" text-anchor="end">0.5</text>
<text class="t n" x="16.3" y="132.73" text-anchor="end">1</text>
<text class="t n" x="16.3" y="101.2" text-anchor="end">1.5</text>
<text class="t n" x="16.3" y="69.67" text-anchor="end">2</text>
<text class="t n" x="16.3" y="38.13" text-anchor="end">2.5</text>
<text class="t n" x="16.3" y="6.6" text-anchor="end">3</text>
<text class="t" x="159.4" y="208.25" text-anchor="middle">The data set</text>
<text class="t" transform="translate(7.7 99.05) rotate(-90)" text-anchor="middle">The calculated results of <tspan font-style="italic">γ</tspan></text>
<text x="222.2" y="14.6" font-size="5.2" font-style="italic">γ</text>
<text x="241.2" y="14.6" font-size="5.2" font-style="italic">γ<tspan font-size="3.5" dy="2.1" dx="0.2">I</tspan></text>
<text x="261.6" y="14.6" font-size="5.2" font-style="italic">γ<tspan font-size="3.5" dy="2.1" dx="0.2">II</tspan></text>
<text x="283.1" y="14.6" font-size="5.2" font-style="italic">γ<tspan font-size="3.5" dy="2.1" dx="0.2">Full</tspan></text>
<text class="cap" x="63.6" y="229.9">(a)</text>
<text class="cap" x="83" y="229.9">The ratio of clustering coefficient</text>
</g>
<g>
<path d="M441 6.5V194.4M465.17 6.5V194.4M489.34 6.5V194.4M513.51 6.5V194.4M537.68 6.5V194.4M561.85 6.5V194.4M586.02 6.5V194.4M610.19 6.5V194.4M634.36 6.5V194.4M658.53 6.5V194.4M417 131.77H682.5M417 69.13H682.5" stroke="#d8d8d8" stroke-width="0.45" fill="none"/>
<rect x="588.1" y="11.4" width="89.1" height="9.9" rx="1" fill="#fff" stroke="#333" stroke-width="0.6"/>
<g fill="#fff"><rect x="432.3" y="59.36" width="4.35" height="135.04"/><rect x="456.47" y="55.1" width="4.35" height="139.3"/><rect x="480.64" y="59.36" width="4.35" height="135.04"/><rect x="504.81" y="57.61" width="4.35" height="136.79"/><rect x="528.98" y="58.24" width="4.35" height="136.16"/><rect x="553.15" y="57.61" width="4.35" height="136.79"/><rect x="577.32" y="59.36" width="4.35" height="135.04"/><rect x="601.49" y="55.23" width="4.35" height="139.17"/><rect x="625.66" y="57.36" width="4.35" height="137.04"/><rect x="649.83" y="52.6" width="4.35" height="141.8"/><rect x="590.3" y="12.7" width="12.9" height="7.2"/><rect x="436.65" y="54.48" width="4.35" height="139.92"/><rect x="460.82" y="51.72" width="4.35" height="142.68"/><rect x="484.99" y="53.22" width="4.35" height="141.18"/><rect x="509.16" y="55.73" width="4.35" height="138.67"/><rect x="533.33" y="56.73" width="4.35" height="137.67"/><rect x="557.5" y="58.36" width="4.35" height="136.04"/><rect x="581.67" y="59.36" width="4.35" height="135.04"/><rect x="605.84" y="57.11" width="4.35" height="137.29"/><rect x="630.01" y="55.86" width="4.35" height="138.54"/><rect x="654.18" y="56.36" width="4.35" height="138.04"/><rect x="611" y="12.7" width="12.9" height="7.2"/><rect x="441" y="55.48" width="4.35" height="138.92"/><rect x="465.17" y="57.98" width="4.35" height="136.42"/><rect x="489.34" y="55.48" width="4.35" height="138.92"/><rect x="513.51" y="57.61" width="4.35" height="136.79"/><rect x="537.68" y="59.61" width="4.35" height="134.79"/><rect x="561.85" y="58.36" width="4.35" height="136.04"/><rect x="586.02" y="57.73" width="4.35" height="136.67"/><rect x="610.19" y="56.36" width="4.35" height="138.04"/><rect x="634.36" y="57.73" width="4.35" height="136.67"/><rect x="658.53" y="57.48" width="4.35" height="136.92"/><rect x="631.2" y="12.7" width="12.9" height="7.2"/><rect x="445.35" y="58.36" width="4.35" height="136.04"/><rect x="469.52" y="56.61" width="4.35" height="137.79"/><rect x="493.69" y="58.99" width="4.35" height="135.41"/><rect x="517.86" y="56.73" width="4.35" height="137.67"/><rect x="542.03" y="55.6" width="4.35" height="138.8"/><rect x="566.2" y="56.36" width="4.35" height="138.04"/><rect x="590.37" y="58.36" width="4.35" height="136.04"/><rect x="614.54" y="55.48" width="4.35" height="138.92"/><rect x="638.71" y="57.36" width="4.35" height="137.04"/><rect x="662.88" y="54.48" width="4.35" height="139.92"/><rect x="652.3" y="12.7" width="12.9" height="7.2"/></g>
<defs>
<clipPath id="c10"><rect x="432.3" y="59.36" width="4.35" height="135.04"/><rect x="456.47" y="55.1" width="4.35" height="139.3"/><rect x="480.64" y="59.36" width="4.35" height="135.04"/><rect x="504.81" y="57.61" width="4.35" height="136.79"/><rect x="528.98" y="58.24" width="4.35" height="136.16"/><rect x="553.15" y="57.61" width="4.35" height="136.79"/><rect x="577.32" y="59.36" width="4.35" height="135.04"/><rect x="601.49" y="55.23" width="4.35" height="139.17"/><rect x="625.66" y="57.36" width="4.35" height="137.04"/><rect x="649.83" y="52.6" width="4.35" height="141.8"/><rect x="590.3" y="12.7" width="12.9" height="7.2"/></clipPath>
<clipPath id="c11"><rect x="436.65" y="54.48" width="4.35" height="139.92"/><rect x="460.82" y="51.72" width="4.35" height="142.68"/><rect x="484.99" y="53.22" width="4.35" height="141.18"/><rect x="509.16" y="55.73" width="4.35" height="138.67"/><rect x="533.33" y="56.73" width="4.35" height="137.67"/><rect x="557.5" y="58.36" width="4.35" height="136.04"/><rect x="581.67" y="59.36" width="4.35" height="135.04"/><rect x="605.84" y="57.11" width="4.35" height="137.29"/><rect x="630.01" y="55.86" width="4.35" height="138.54"/><rect x="654.18" y="56.36" width="4.35" height="138.04"/><rect x="611" y="12.7" width="12.9" height="7.2"/></clipPath>
<clipPath id="c12"><rect x="441" y="55.48" width="4.35" height="138.92"/><rect x="465.17" y="57.98" width="4.35" height="136.42"/><rect x="489.34" y="55.48" width="4.35" height="138.92"/><rect x="513.51" y="57.61" width="4.35" height="136.79"/><rect x="537.68" y="59.61" width="4.35" height="134.79"/><rect x="561.85" y="58.36" width="4.35" height="136.04"/><rect x="586.02" y="57.73" width="4.35" height="136.67"/><rect x="610.19" y="56.36" width="4.35" height="138.04"/><rect x="634.36" y="57.73" width="4.35" height="136.67"/><rect x="658.53" y="57.48" width="4.35" height="136.92"/><rect x="631.2" y="12.7" width="12.9" height="7.2"/></clipPath>
<clipPath id="c13"><rect x="445.35" y="58.36" width="4.35" height="136.04"/><rect x="469.52" y="56.61" width="4.35" height="137.79"/><rect x="493.69" y="58.99" width="4.35" height="135.41"/><rect x="517.86" y="56.73" width="4.35" height="137.67"/><rect x="542.03" y="55.6" width="4.35" height="138.8"/><rect x="566.2" y="56.36" width="4.35" height="138.04"/><rect x="590.37" y="58.36" width="4.35" height="136.04"/><rect x="614.54" y="55.48" width="4.35" height="138.92"/><rect x="638.71" y="57.36" width="4.35" height="137.04"/><rect x="662.88" y="54.48" width="4.35" height="139.92"/><rect x="652.3" y="12.7" width="12.9" height="7.2"/></clipPath>
</defs>
<g clip-path="url(#c10)"><path class="h" stroke-width="0.58" d="M417 193.5H682.5M417 191H682.5M417 188.5H682.5M417 186H682.5M417 183.5H682.5M417 181H682.5M417 178.5H682.5M417 176H682.5M417 173.5H682.5M417 171H682.5M417 168.5H682.5M417 166H682.5M417 163.5H682.5M417 161H682.5M417 158.5H682.5M417 156H682.5M417 153.5H682.5M417 151H682.5M417 148.5H682.5M417 146H682.5M417 143.5H682.5M417 141H682.5M417 138.5H682.5M417 136H682.5M417 133.5H682.5M417 131H682.5M417 128.5H682.5M417 126H682.5M417 123.5H682.5M417 121H682.5M417 118.5H682.5M417 116H682.5M417 113.5H682.5M417 111H682.5M417 108.5H682.5M417 106H682.5M417 103.5H682.5M417 101H682.5M417 98.5H682.5M417 96H682.5M417 93.5H682.5M417 91H682.5M417 88.5H682.5M417 86H682.5M417 83.5H682.5M417 81H682.5M417 78.5H682.5M417 76H682.5M417 73.5H682.5M417 71H682.5M417 68.5H682.5M417 66H682.5M417 63.5H682.5M417 61H682.5M417 58.5H682.5M417 56H682.5M417 53.5H682.5M417 51H682.5M417 48.5H682.5M417 46H682.5M417 43.5H682.5M417 41H682.5M417 38.5H682.5M417 36H682.5M417 33.5H682.5M417 31H682.5M417 28.5H682.5M417 26H682.5M417 23.5H682.5M417 21H682.5M417 18.5H682.5M417 16H682.5M417 13.5H682.5"/><path class="h" stroke-width="0.4" d="M434.47 59.36V194.4M458.64 55.1V194.4M482.81 59.36V194.4M506.98 57.61V194.4M531.15 58.24V194.4M555.32 57.61V194.4M579.49 59.36V194.4M603.66 55.23V194.4M627.83 57.36V194.4M652 52.6V194.4"/><path class="h" stroke-width="0.6" d="M592.9 12.7V19.9M595.5 12.7V19.9M598.1 12.7V19.9M600.7 12.7V19.9M590.3 17.75H603.2M590.3 15.25H603.2M590.3 12.75H603.2"/></g>
<g clip-path="url(#c11)"><path class="h" stroke-width="0.35" d="M234.3 194.4l182.7 -182.7M236.6 194.4l182.7 -182.7M238.9 194.4l182.7 -182.7M241.2 194.4l182.7 -182.7M243.5 194.4l182.7 -182.7M245.8 194.4l182.7 -182.7M248.1 194.4l182.7 -182.7M250.4 194.4l182.7 -182.7M252.7 194.4l182.7 -182.7M255 194.4l182.7 -182.7M257.3 194.4l182.7 -182.7M259.6 194.4l182.7 -182.7M261.9 194.4l182.7 -182.7M264.2 194.4l182.7 -182.7M266.5 194.4l182.7 -182.7M268.8 194.4l182.7 -182.7M271.1 194.4l182.7 -182.7M273.4 194.4l182.7 -182.7M275.7 194.4l182.7 -182.7M278 194.4l182.7 -182.7M280.3 194.4l182.7 -182.7M282.6 194.4l182.7 -182.7M284.9 194.4l182.7 -182.7M287.2 194.4l182.7 -182.7M289.5 194.4l182.7 -182.7M291.8 194.4l182.7 -182.7M294.1 194.4l182.7 -182.7M296.4 194.4l182.7 -182.7M298.7 194.4l182.7 -182.7M301 194.4l182.7 -182.7M303.3 194.4l182.7 -182.7M305.6 194.4l182.7 -182.7M307.9 194.4l182.7 -182.7M310.2 194.4l182.7 -182.7M312.5 194.4l182.7 -182.7M314.8 194.4l182.7 -182.7M317.1 194.4l182.7 -182.7M319.4 194.4l182.7 -182.7M321.7 194.4l182.7 -182.7M324 194.4l182.7 -182.7M326.3 194.4l182.7 -182.7M328.6 194.4l182.7 -182.7M330.9 194.4l182.7 -182.7M333.2 194.4l182.7 -182.7M335.5 194.4l182.7 -182.7M337.8 194.4l182.7 -182.7M340.1 194.4l182.7 -182.7M342.4 194.4l182.7 -182.7M344.7 194.4l182.7 -182.7M347 194.4l182.7 -182.7M349.3 194.4l182.7 -182.7M351.6 194.4l182.7 -182.7M353.9 194.4l182.7 -182.7M356.2 194.4l182.7 -182.7M358.5 194.4l182.7 -182.7M360.8 194.4l182.7 -182.7M363.1 194.4l182.7 -182.7M365.4 194.4l182.7 -182.7M367.7 194.4l182.7 -182.7M370 194.4l182.7 -182.7M372.3 194.4l182.7 -182.7M374.6 194.4l182.7 -182.7M376.9 194.4l182.7 -182.7M379.2 194.4l182.7 -182.7M381.5 194.4l182.7 -182.7M383.8 194.4l182.7 -182.7M386.1 194.4l182.7 -182.7M388.4 194.4l182.7 -182.7M390.7 194.4l182.7 -182.7M393 194.4l182.7 -182.7M395.3 194.4l182.7 -182.7M397.6 194.4l182.7 -182.7M399.9 194.4l182.7 -182.7M402.2 194.4l182.7 -182.7M404.5 194.4l182.7 -182.7M406.8 194.4l182.7 -182.7M409.1 194.4l182.7 -182.7M411.4 194.4l182.7 -182.7M413.7 194.4l182.7 -182.7M416 194.4l182.7 -182.7M418.3 194.4l182.7 -182.7M420.6 194.4l182.7 -182.7M422.9 194.4l182.7 -182.7M425.2 194.4l182.7 -182.7M427.5 194.4l182.7 -182.7M429.8 194.4l182.7 -182.7M432.1 194.4l182.7 -182.7M434.4 194.4l182.7 -182.7M436.7 194.4l182.7 -182.7M439 194.4l182.7 -182.7M441.3 194.4l182.7 -182.7M443.6 194.4l182.7 -182.7M445.9 194.4l182.7 -182.7M448.2 194.4l182.7 -182.7M450.5 194.4l182.7 -182.7M452.8 194.4l182.7 -182.7M455.1 194.4l182.7 -182.7M457.4 194.4l182.7 -182.7M459.7 194.4l182.7 -182.7M462 194.4l182.7 -182.7M464.3 194.4l182.7 -182.7M466.6 194.4l182.7 -182.7M468.9 194.4l182.7 -182.7M471.2 194.4l182.7 -182.7M473.5 194.4l182.7 -182.7M475.8 194.4l182.7 -182.7M478.1 194.4l182.7 -182.7M480.4 194.4l182.7 -182.7M482.7 194.4l182.7 -182.7M485 194.4l182.7 -182.7M487.3 194.4l182.7 -182.7M489.6 194.4l182.7 -182.7M491.9 194.4l182.7 -182.7M494.2 194.4l182.7 -182.7M496.5 194.4l182.7 -182.7M498.8 194.4l182.7 -182.7M501.1 194.4l182.7 -182.7M503.4 194.4l182.7 -182.7M505.7 194.4l182.7 -182.7M508 194.4l182.7 -182.7M510.3 194.4l182.7 -182.7M512.6 194.4l182.7 -182.7M514.9 194.4l182.7 -182.7M517.2 194.4l182.7 -182.7M519.5 194.4l182.7 -182.7M521.8 194.4l182.7 -182.7M524.1 194.4l182.7 -182.7M526.4 194.4l182.7 -182.7M528.7 194.4l182.7 -182.7M531 194.4l182.7 -182.7M533.3 194.4l182.7 -182.7M535.6 194.4l182.7 -182.7M537.9 194.4l182.7 -182.7M540.2 194.4l182.7 -182.7M542.5 194.4l182.7 -182.7M544.8 194.4l182.7 -182.7M547.1 194.4l182.7 -182.7M549.4 194.4l182.7 -182.7M551.7 194.4l182.7 -182.7M554 194.4l182.7 -182.7M556.3 194.4l182.7 -182.7M558.6 194.4l182.7 -182.7M560.9 194.4l182.7 -182.7M563.2 194.4l182.7 -182.7M565.5 194.4l182.7 -182.7M567.8 194.4l182.7 -182.7M570.1 194.4l182.7 -182.7M572.4 194.4l182.7 -182.7M574.7 194.4l182.7 -182.7M577 194.4l182.7 -182.7M579.3 194.4l182.7 -182.7M581.6 194.4l182.7 -182.7M583.9 194.4l182.7 -182.7M586.2 194.4l182.7 -182.7M588.5 194.4l182.7 -182.7M590.8 194.4l182.7 -182.7M593.1 194.4l182.7 -182.7M595.4 194.4l182.7 -182.7M597.7 194.4l182.7 -182.7M600 194.4l182.7 -182.7M602.3 194.4l182.7 -182.7M604.6 194.4l182.7 -182.7M606.9 194.4l182.7 -182.7M609.2 194.4l182.7 -182.7M611.5 194.4l182.7 -182.7M613.8 194.4l182.7 -182.7M616.1 194.4l182.7 -182.7M618.4 194.4l182.7 -182.7M620.7 194.4l182.7 -182.7M623 194.4l182.7 -182.7M625.3 194.4l182.7 -182.7M627.6 194.4l182.7 -182.7M629.9 194.4l182.7 -182.7M632.2 194.4l182.7 -182.7M634.5 194.4l182.7 -182.7M636.8 194.4l182.7 -182.7M639.1 194.4l182.7 -182.7M641.4 194.4l182.7 -182.7M643.7 194.4l182.7 -182.7M646 194.4l182.7 -182.7M648.3 194.4l182.7 -182.7M650.6 194.4l182.7 -182.7M652.9 194.4l182.7 -182.7M655.2 194.4l182.7 -182.7M657.5 194.4l182.7 -182.7M659.8 194.4l182.7 -182.7M662.1 194.4l182.7 -182.7M664.4 194.4l182.7 -182.7M666.7 194.4l182.7 -182.7M669 194.4l182.7 -182.7M671.3 194.4l182.7 -182.7M673.6 194.4l182.7 -182.7M675.9 194.4l182.7 -182.7M678.2 194.4l182.7 -182.7M680.5 194.4l182.7 -182.7M234.3 11.7l182.7 182.7M236.6 11.7l182.7 182.7M238.9 11.7l182.7 182.7M241.2 11.7l182.7 182.7M243.5 11.7l182.7 182.7M245.8 11.7l182.7 182.7M248.1 11.7l182.7 182.7M250.4 11.7l182.7 182.7M252.7 11.7l182.7 182.7M255 11.7l182.7 182.7M257.3 11.7l182.7 182.7M259.6 11.7l182.7 182.7M261.9 11.7l182.7 182.7M264.2 11.7l182.7 182.7M266.5 11.7l182.7 182.7M268.8 11.7l182.7 182.7M271.1 11.7l182.7 182.7M273.4 11.7l182.7 182.7M275.7 11.7l182.7 182.7M278 11.7l182.7 182.7M280.3 11.7l182.7 182.7M282.6 11.7l182.7 182.7M284.9 11.7l182.7 182.7M287.2 11.7l182.7 182.7M289.5 11.7l182.7 182.7M291.8 11.7l182.7 182.7M294.1 11.7l182.7 182.7M296.4 11.7l182.7 182.7M298.7 11.7l182.7 182.7M301 11.7l182.7 182.7M303.3 11.7l182.7 182.7M305.6 11.7l182.7 182.7M307.9 11.7l182.7 182.7M310.2 11.7l182.7 182.7M312.5 11.7l182.7 182.7M314.8 11.7l182.7 182.7M317.1 11.7l182.7 182.7M319.4 11.7l182.7 182.7M321.7 11.7l182.7 182.7M324 11.7l182.7 182.7M326.3 11.7l182.7 182.7M328.6 11.7l182.7 182.7M330.9 11.7l182.7 182.7M333.2 11.7l182.7 182.7M335.5 11.7l182.7 182.7M337.8 11.7l182.7 182.7M340.1 11.7l182.7 182.7M342.4 11.7l182.7 182.7M344.7 11.7l182.7 182.7M347 11.7l182.7 182.7M349.3 11.7l182.7 182.7M351.6 11.7l182.7 182.7M353.9 11.7l182.7 182.7M356.2 11.7l182.7 182.7M358.5 11.7l182.7 182.7M360.8 11.7l182.7 182.7M363.1 11.7l182.7 182.7M365.4 11.7l182.7 182.7M367.7 11.7l182.7 182.7M370 11.7l182.7 182.7M372.3 11.7l182.7 182.7M374.6 11.7l182.7 182.7M376.9 11.7l182.7 182.7M379.2 11.7l182.7 182.7M381.5 11.7l182.7 182.7M383.8 11.7l182.7 182.7M386.1 11.7l182.7 182.7M388.4 11.7l182.7 182.7M390.7 11.7l182.7 182.7M393 11.7l182.7 182.7M395.3 11.7l182.7 182.7M397.6 11.7l182.7 182.7M399.9 11.7l182.7 182.7M402.2 11.7l182.7 182.7M404.5 11.7l182.7 182.7M406.8 11.7l182.7 182.7M409.1 11.7l182.7 182.7M411.4 11.7l182.7 182.7M413.7 11.7l182.7 182.7M416 11.7l182.7 182.7M418.3 11.7l182.7 182.7M420.6 11.7l182.7 182.7M422.9 11.7l182.7 182.7M425.2 11.7l182.7 182.7M427.5 11.7l182.7 182.7M429.8 11.7l182.7 182.7M432.1 11.7l182.7 182.7M434.4 11.7l182.7 182.7M436.7 11.7l182.7 182.7M439 11.7l182.7 182.7M441.3 11.7l182.7 182.7M443.6 11.7l182.7 182.7M445.9 11.7l182.7 182.7M448.2 11.7l182.7 182.7M450.5 11.7l182.7 182.7M452.8 11.7l182.7 182.7M455.1 11.7l182.7 182.7M457.4 11.7l182.7 182.7M459.7 11.7l182.7 182.7M462 11.7l182.7 182.7M464.3 11.7l182.7 182.7M466.6 11.7l182.7 182.7M468.9 11.7l182.7 182.7M471.2 11.7l182.7 182.7M473.5 11.7l182.7 182.7M475.8 11.7l182.7 182.7M478.1 11.7l182.7 182.7M480.4 11.7l182.7 182.7M482.7 11.7l182.7 182.7M485 11.7l182.7 182.7M487.3 11.7l182.7 182.7M489.6 11.7l182.7 182.7M491.9 11.7l182.7 182.7M494.2 11.7l182.7 182.7M496.5 11.7l182.7 182.7M498.8 11.7l182.7 182.7M501.1 11.7l182.7 182.7M503.4 11.7l182.7 182.7M505.7 11.7l182.7 182.7M508 11.7l182.7 182.7M510.3 11.7l182.7 182.7M512.6 11.7l182.7 182.7M514.9 11.7l182.7 182.7M517.2 11.7l182.7 182.7M519.5 11.7l182.7 182.7M521.8 11.7l182.7 182.7M524.1 11.7l182.7 182.7M526.4 11.7l182.7 182.7M528.7 11.7l182.7 182.7M531 11.7l182.7 182.7M533.3 11.7l182.7 182.7M535.6 11.7l182.7 182.7M537.9 11.7l182.7 182.7M540.2 11.7l182.7 182.7M542.5 11.7l182.7 182.7M544.8 11.7l182.7 182.7M547.1 11.7l182.7 182.7M549.4 11.7l182.7 182.7M551.7 11.7l182.7 182.7M554 11.7l182.7 182.7M556.3 11.7l182.7 182.7M558.6 11.7l182.7 182.7M560.9 11.7l182.7 182.7M563.2 11.7l182.7 182.7M565.5 11.7l182.7 182.7M567.8 11.7l182.7 182.7M570.1 11.7l182.7 182.7M572.4 11.7l182.7 182.7M574.7 11.7l182.7 182.7M577 11.7l182.7 182.7M579.3 11.7l182.7 182.7M581.6 11.7l182.7 182.7M583.9 11.7l182.7 182.7M586.2 11.7l182.7 182.7M588.5 11.7l182.7 182.7M590.8 11.7l182.7 182.7M593.1 11.7l182.7 182.7M595.4 11.7l182.7 182.7M597.7 11.7l182.7 182.7M600 11.7l182.7 182.7M602.3 11.7l182.7 182.7M604.6 11.7l182.7 182.7M606.9 11.7l182.7 182.7M609.2 11.7l182.7 182.7M611.5 11.7l182.7 182.7M613.8 11.7l182.7 182.7M616.1 11.7l182.7 182.7M618.4 11.7l182.7 182.7M620.7 11.7l182.7 182.7M623 11.7l182.7 182.7M625.3 11.7l182.7 182.7M627.6 11.7l182.7 182.7M629.9 11.7l182.7 182.7M632.2 11.7l182.7 182.7M634.5 11.7l182.7 182.7M636.8 11.7l182.7 182.7M639.1 11.7l182.7 182.7M641.4 11.7l182.7 182.7M643.7 11.7l182.7 182.7M646 11.7l182.7 182.7M648.3 11.7l182.7 182.7M650.6 11.7l182.7 182.7M652.9 11.7l182.7 182.7M655.2 11.7l182.7 182.7M657.5 11.7l182.7 182.7M659.8 11.7l182.7 182.7M662.1 11.7l182.7 182.7M664.4 11.7l182.7 182.7M666.7 11.7l182.7 182.7M669 11.7l182.7 182.7M671.3 11.7l182.7 182.7M673.6 11.7l182.7 182.7M675.9 11.7l182.7 182.7M678.2 11.7l182.7 182.7M680.5 11.7l182.7 182.7"/></g>
<g clip-path="url(#c12)"><path class="h" stroke-width="0.5" d="M234.3 194.4l182.7 -182.7M236.6 194.4l182.7 -182.7M238.9 194.4l182.7 -182.7M241.2 194.4l182.7 -182.7M243.5 194.4l182.7 -182.7M245.8 194.4l182.7 -182.7M248.1 194.4l182.7 -182.7M250.4 194.4l182.7 -182.7M252.7 194.4l182.7 -182.7M255 194.4l182.7 -182.7M257.3 194.4l182.7 -182.7M259.6 194.4l182.7 -182.7M261.9 194.4l182.7 -182.7M264.2 194.4l182.7 -182.7M266.5 194.4l182.7 -182.7M268.8 194.4l182.7 -182.7M271.1 194.4l182.7 -182.7M273.4 194.4l182.7 -182.7M275.7 194.4l182.7 -182.7M278 194.4l182.7 -182.7M280.3 194.4l182.7 -182.7M282.6 194.4l182.7 -182.7M284.9 194.4l182.7 -182.7M287.2 194.4l182.7 -182.7M289.5 194.4l182.7 -182.7M291.8 194.4l182.7 -182.7M294.1 194.4l182.7 -182.7M296.4 194.4l182.7 -182.7M298.7 194.4l182.7 -182.7M301 194.4l182.7 -182.7M303.3 194.4l182.7 -182.7M305.6 194.4l182.7 -182.7M307.9 194.4l182.7 -182.7M310.2 194.4l182.7 -182.7M312.5 194.4l182.7 -182.7M314.8 194.4l182.7 -182.7M317.1 194.4l182.7 -182.7M319.4 194.4l182.7 -182.7M321.7 194.4l182.7 -182.7M324 194.4l182.7 -182.7M326.3 194.4l182.7 -182.7M328.6 194.4l182.7 -182.7M330.9 194.4l182.7 -182.7M333.2 194.4l182.7 -182.7M335.5 194.4l182.7 -182.7M337.8 194.4l182.7 -182.7M340.1 194.4l182.7 -182.7M342.4 194.4l182.7 -182.7M344.7 194.4l182.7 -182.7M347 194.4l182.7 -182.7M349.3 194.4l182.7 -182.7M351.6 194.4l182.7 -182.7M353.9 194.4l182.7 -182.7M356.2 194.4l182.7 -182.7M358.5 194.4l182.7 -182.7M360.8 194.4l182.7 -182.7M363.1 194.4l182.7 -182.7M365.4 194.4l182.7 -182.7M367.7 194.4l182.7 -182.7M370 194.4l182.7 -182.7M372.3 194.4l182.7 -182.7M374.6 194.4l182.7 -182.7M376.9 194.4l182.7 -182.7M379.2 194.4l182.7 -182.7M381.5 194.4l182.7 -182.7M383.8 194.4l182.7 -182.7M386.1 194.4l182.7 -182.7M388.4 194.4l182.7 -182.7M390.7 194.4l182.7 -182.7M393 194.4l182.7 -182.7M395.3 194.4l182.7 -182.7M397.6 194.4l182.7 -182.7M399.9 194.4l182.7 -182.7M402.2 194.4l182.7 -182.7M404.5 194.4l182.7 -182.7M406.8 194.4l182.7 -182.7M409.1 194.4l182.7 -182.7M411.4 194.4l182.7 -182.7M413.7 194.4l182.7 -182.7M416 194.4l182.7 -182.7M418.3 194.4l182.7 -182.7M420.6 194.4l182.7 -182.7M422.9 194.4l182.7 -182.7M425.2 194.4l182.7 -182.7M427.5 194.4l182.7 -182.7M429.8 194.4l182.7 -182.7M432.1 194.4l182.7 -182.7M434.4 194.4l182.7 -182.7M436.7 194.4l182.7 -182.7M439 194.4l182.7 -182.7M441.3 194.4l182.7 -182.7M443.6 194.4l182.7 -182.7M445.9 194.4l182.7 -182.7M448.2 194.4l182.7 -182.7M450.5 194.4l182.7 -182.7M452.8 194.4l182.7 -182.7M455.1 194.4l182.7 -182.7M457.4 194.4l182.7 -182.7M459.7 194.4l182.7 -182.7M462 194.4l182.7 -182.7M464.3 194.4l182.7 -182.7M466.6 194.4l182.7 -182.7M468.9 194.4l182.7 -182.7M471.2 194.4l182.7 -182.7M473.5 194.4l182.7 -182.7M475.8 194.4l182.7 -182.7M478.1 194.4l182.7 -182.7M480.4 194.4l182.7 -182.7M482.7 194.4l182.7 -182.7M485 194.4l182.7 -182.7M487.3 194.4l182.7 -182.7M489.6 194.4l182.7 -182.7M491.9 194.4l182.7 -182.7M494.2 194.4l182.7 -182.7M496.5 194.4l182.7 -182.7M498.8 194.4l182.7 -182.7M501.1 194.4l182.7 -182.7M503.4 194.4l182.7 -182.7M505.7 194.4l182.7 -182.7M508 194.4l182.7 -182.7M510.3 194.4l182.7 -182.7M512.6 194.4l182.7 -182.7M514.9 194.4l182.7 -182.7M517.2 194.4l182.7 -182.7M519.5 194.4l182.7 -182.7M521.8 194.4l182.7 -182.7M524.1 194.4l182.7 -182.7M526.4 194.4l182.7 -182.7M528.7 194.4l182.7 -182.7M531 194.4l182.7 -182.7M533.3 194.4l182.7 -182.7M535.6 194.4l182.7 -182.7M537.9 194.4l182.7 -182.7M540.2 194.4l182.7 -182.7M542.5 194.4l182.7 -182.7M544.8 194.4l182.7 -182.7M547.1 194.4l182.7 -182.7M549.4 194.4l182.7 -182.7M551.7 194.4l182.7 -182.7M554 194.4l182.7 -182.7M556.3 194.4l182.7 -182.7M558.6 194.4l182.7 -182.7M560.9 194.4l182.7 -182.7M563.2 194.4l182.7 -182.7M565.5 194.4l182.7 -182.7M567.8 194.4l182.7 -182.7M570.1 194.4l182.7 -182.7M572.4 194.4l182.7 -182.7M574.7 194.4l182.7 -182.7M577 194.4l182.7 -182.7M579.3 194.4l182.7 -182.7M581.6 194.4l182.7 -182.7M583.9 194.4l182.7 -182.7M586.2 194.4l182.7 -182.7M588.5 194.4l182.7 -182.7M590.8 194.4l182.7 -182.7M593.1 194.4l182.7 -182.7M595.4 194.4l182.7 -182.7M597.7 194.4l182.7 -182.7M600 194.4l182.7 -182.7M602.3 194.4l182.7 -182.7M604.6 194.4l182.7 -182.7M606.9 194.4l182.7 -182.7M609.2 194.4l182.7 -182.7M611.5 194.4l182.7 -182.7M613.8 194.4l182.7 -182.7M616.1 194.4l182.7 -182.7M618.4 194.4l182.7 -182.7M620.7 194.4l182.7 -182.7M623 194.4l182.7 -182.7M625.3 194.4l182.7 -182.7M627.6 194.4l182.7 -182.7M629.9 194.4l182.7 -182.7M632.2 194.4l182.7 -182.7M634.5 194.4l182.7 -182.7M636.8 194.4l182.7 -182.7M639.1 194.4l182.7 -182.7M641.4 194.4l182.7 -182.7M643.7 194.4l182.7 -182.7M646 194.4l182.7 -182.7M648.3 194.4l182.7 -182.7M650.6 194.4l182.7 -182.7M652.9 194.4l182.7 -182.7M655.2 194.4l182.7 -182.7M657.5 194.4l182.7 -182.7M659.8 194.4l182.7 -182.7M662.1 194.4l182.7 -182.7M664.4 194.4l182.7 -182.7M666.7 194.4l182.7 -182.7M669 194.4l182.7 -182.7M671.3 194.4l182.7 -182.7M673.6 194.4l182.7 -182.7M675.9 194.4l182.7 -182.7M678.2 194.4l182.7 -182.7M680.5 194.4l182.7 -182.7"/></g>
<g clip-path="url(#c13)"><path class="h" stroke-width="0.5" d="M234.3 11.7l182.7 182.7M236.6 11.7l182.7 182.7M238.9 11.7l182.7 182.7M241.2 11.7l182.7 182.7M243.5 11.7l182.7 182.7M245.8 11.7l182.7 182.7M248.1 11.7l182.7 182.7M250.4 11.7l182.7 182.7M252.7 11.7l182.7 182.7M255 11.7l182.7 182.7M257.3 11.7l182.7 182.7M259.6 11.7l182.7 182.7M261.9 11.7l182.7 182.7M264.2 11.7l182.7 182.7M266.5 11.7l182.7 182.7M268.8 11.7l182.7 182.7M271.1 11.7l182.7 182.7M273.4 11.7l182.7 182.7M275.7 11.7l182.7 182.7M278 11.7l182.7 182.7M280.3 11.7l182.7 182.7M282.6 11.7l182.7 182.7M284.9 11.7l182.7 182.7M287.2 11.7l182.7 182.7M289.5 11.7l182.7 182.7M291.8 11.7l182.7 182.7M294.1 11.7l182.7 182.7M296.4 11.7l182.7 182.7M298.7 11.7l182.7 182.7M301 11.7l182.7 182.7M303.3 11.7l182.7 182.7M305.6 11.7l182.7 182.7M307.9 11.7l182.7 182.7M310.2 11.7l182.7 182.7M312.5 11.7l182.7 182.7M314.8 11.7l182.7 182.7M317.1 11.7l182.7 182.7M319.4 11.7l182.7 182.7M321.7 11.7l182.7 182.7M324 11.7l182.7 182.7M326.3 11.7l182.7 182.7M328.6 11.7l182.7 182.7M330.9 11.7l182.7 182.7M333.2 11.7l182.7 182.7M335.5 11.7l182.7 182.7M337.8 11.7l182.7 182.7M340.1 11.7l182.7 182.7M342.4 11.7l182.7 182.7M344.7 11.7l182.7 182.7M347 11.7l182.7 182.7M349.3 11.7l182.7 182.7M351.6 11.7l182.7 182.7M353.9 11.7l182.7 182.7M356.2 11.7l182.7 182.7M358.5 11.7l182.7 182.7M360.8 11.7l182.7 182.7M363.1 11.7l182.7 182.7M365.4 11.7l182.7 182.7M367.7 11.7l182.7 182.7M370 11.7l182.7 182.7M372.3 11.7l182.7 182.7M374.6 11.7l182.7 182.7M376.9 11.7l182.7 182.7M379.2 11.7l182.7 182.7M381.5 11.7l182.7 182.7M383.8 11.7l182.7 182.7M386.1 11.7l182.7 182.7M388.4 11.7l182.7 182.7M390.7 11.7l182.7 182.7M393 11.7l182.7 182.7M395.3 11.7l182.7 182.7M397.6 11.7l182.7 182.7M399.9 11.7l182.7 182.7M402.2 11.7l182.7 182.7M404.5 11.7l182.7 182.7M406.8 11.7l182.7 182.7M409.1 11.7l182.7 182.7M411.4 11.7l182.7 182.7M413.7 11.7l182.7 182.7M416 11.7l182.7 182.7M418.3 11.7l182.7 182.7M420.6 11.7l182.7 182.7M422.9 11.7l182.7 182.7M425.2 11.7l182.7 182.7M427.5 11.7l182.7 182.7M429.8 11.7l182.7 182.7M432.1 11.7l182.7 182.7M434.4 11.7l182.7 182.7M436.7 11.7l182.7 182.7M439 11.7l182.7 182.7M441.3 11.7l182.7 182.7M443.6 11.7l182.7 182.7M445.9 11.7l182.7 182.7M448.2 11.7l182.7 182.7M450.5 11.7l182.7 182.7M452.8 11.7l182.7 182.7M455.1 11.7l182.7 182.7M457.4 11.7l182.7 182.7M459.7 11.7l182.7 182.7M462 11.7l182.7 182.7M464.3 11.7l182.7 182.7M466.6 11.7l182.7 182.7M468.9 11.7l182.7 182.7M471.2 11.7l182.7 182.7M473.5 11.7l182.7 182.7M475.8 11.7l182.7 182.7M478.1 11.7l182.7 182.7M480.4 11.7l182.7 182.7M482.7 11.7l182.7 182.7M485 11.7l182.7 182.7M487.3 11.7l182.7 182.7M489.6 11.7l182.7 182.7M491.9 11.7l182.7 182.7M494.2 11.7l182.7 182.7M496.5 11.7l182.7 182.7M498.8 11.7l182.7 182.7M501.1 11.7l182.7 182.7M503.4 11.7l182.7 182.7M505.7 11.7l182.7 182.7M508 11.7l182.7 182.7M510.3 11.7l182.7 182.7M512.6 11.7l182.7 182.7M514.9 11.7l182.7 182.7M517.2 11.7l182.7 182.7M519.5 11.7l182.7 182.7M521.8 11.7l182.7 182.7M524.1 11.7l182.7 182.7M526.4 11.7l182.7 182.7M528.7 11.7l182.7 182.7M531 11.7l182.7 182.7M533.3 11.7l182.7 182.7M535.6 11.7l182.7 182.7M537.9 11.7l182.7 182.7M540.2 11.7l182.7 182.7M542.5 11.7l182.7 182.7M544.8 11.7l182.7 182.7M547.1 11.7l182.7 182.7M549.4 11.7l182.7 182.7M551.7 11.7l182.7 182.7M554 11.7l182.7 182.7M556.3 11.7l182.7 182.7M558.6 11.7l182.7 182.7M560.9 11.7l182.7 182.7M563.2 11.7l182.7 182.7M565.5 11.7l182.7 182.7M567.8 11.7l182.7 182.7M570.1 11.7l182.7 182.7M572.4 11.7l182.7 182.7M574.7 11.7l182.7 182.7M577 11.7l182.7 182.7M579.3 11.7l182.7 182.7M581.6 11.7l182.7 182.7M583.9 11.7l182.7 182.7M586.2 11.7l182.7 182.7M588.5 11.7l182.7 182.7M590.8 11.7l182.7 182.7M593.1 11.7l182.7 182.7M595.4 11.7l182.7 182.7M597.7 11.7l182.7 182.7M600 11.7l182.7 182.7M602.3 11.7l182.7 182.7M604.6 11.7l182.7 182.7M606.9 11.7l182.7 182.7M609.2 11.7l182.7 182.7M611.5 11.7l182.7 182.7M613.8 11.7l182.7 182.7M616.1 11.7l182.7 182.7M618.4 11.7l182.7 182.7M620.7 11.7l182.7 182.7M623 11.7l182.7 182.7M625.3 11.7l182.7 182.7M627.6 11.7l182.7 182.7M629.9 11.7l182.7 182.7M632.2 11.7l182.7 182.7M634.5 11.7l182.7 182.7M636.8 11.7l182.7 182.7M639.1 11.7l182.7 182.7M641.4 11.7l182.7 182.7M643.7 11.7l182.7 182.7M646 11.7l182.7 182.7M648.3 11.7l182.7 182.7M650.6 11.7l182.7 182.7M652.9 11.7l182.7 182.7M655.2 11.7l182.7 182.7M657.5 11.7l182.7 182.7M659.8 11.7l182.7 182.7M662.1 11.7l182.7 182.7M664.4 11.7l182.7 182.7M666.7 11.7l182.7 182.7M669 11.7l182.7 182.7M671.3 11.7l182.7 182.7M673.6 11.7l182.7 182.7M675.9 11.7l182.7 182.7M678.2 11.7l182.7 182.7M680.5 11.7l182.7 182.7"/></g>
<g fill="none" stroke="#000" stroke-width="0.35"><rect x="432.3" y="59.36" width="4.35" height="135.04"/><rect x="456.47" y="55.1" width="4.35" height="139.3"/><rect x="480.64" y="59.36" width="4.35" height="135.04"/><rect x="504.81" y="57.61" width="4.35" height="136.79"/><rect x="528.98" y="58.24" width="4.35" height="136.16"/><rect x="553.15" y="57.61" width="4.35" height="136.79"/><rect x="577.32" y="59.36" width="4.35" height="135.04"/><rect x="601.49" y="55.23" width="4.35" height="139.17"/><rect x="625.66" y="57.36" width="4.35" height="137.04"/><rect x="649.83" y="52.6" width="4.35" height="141.8"/><rect x="590.3" y="12.7" width="12.9" height="7.2"/><rect x="436.65" y="54.48" width="4.35" height="139.92"/><rect x="460.82" y="51.72" width="4.35" height="142.68"/><rect x="484.99" y="53.22" width="4.35" height="141.18"/><rect x="509.16" y="55.73" width="4.35" height="138.67"/><rect x="533.33" y="56.73" width="4.35" height="137.67"/><rect x="557.5" y="58.36" width="4.35" height="136.04"/><rect x="581.67" y="59.36" width="4.35" height="135.04"/><rect x="605.84" y="57.11" width="4.35" height="137.29"/><rect x="630.01" y="55.86" width="4.35" height="138.54"/><rect x="654.18" y="56.36" width="4.35" height="138.04"/><rect x="611" y="12.7" width="12.9" height="7.2"/><rect x="441" y="55.48" width="4.35" height="138.92"/><rect x="465.17" y="57.98" width="4.35" height="136.42"/><rect x="489.34" y="55.48" width="4.35" height="138.92"/><rect x="513.51" y="57.61" width="4.35" height="136.79"/><rect x="537.68" y="59.61" width="4.35" height="134.79"/><rect x="561.85" y="58.36" width="4.35" height="136.04"/><rect x="586.02" y="57.73" width="4.35" height="136.67"/><rect x="610.19" y="56.36" width="4.35" height="138.04"/><rect x="634.36" y="57.73" width="4.35" height="136.67"/><rect x="658.53" y="57.48" width="4.35" height="136.92"/><rect x="631.2" y="12.7" width="12.9" height="7.2"/><rect x="445.35" y="58.36" width="4.35" height="136.04"/><rect x="469.52" y="56.61" width="4.35" height="137.79"/><rect x="493.69" y="58.99" width="4.35" height="135.41"/><rect x="517.86" y="56.73" width="4.35" height="137.67"/><rect x="542.03" y="55.6" width="4.35" height="138.8"/><rect x="566.2" y="56.36" width="4.35" height="138.04"/><rect x="590.37" y="58.36" width="4.35" height="136.04"/><rect x="614.54" y="55.48" width="4.35" height="138.92"/><rect x="638.71" y="57.36" width="4.35" height="137.04"/><rect x="662.88" y="54.48" width="4.35" height="139.92"/><rect x="652.3" y="12.7" width="12.9" height="7.2"/></g>
<g fill="none" stroke="#000" stroke-width="0.3"><rect x="590.3" y="12.7" width="12.9" height="7.2"/><rect x="611" y="12.7" width="12.9" height="7.2"/><rect x="631.2" y="12.7" width="12.9" height="7.2"/><rect x="652.3" y="12.7" width="12.9" height="7.2"/></g>
<g fill="none" stroke="#000" stroke-width="0.22"><rect x="432.3" y="59.36" width="4.35" height="135.04"/><rect x="456.47" y="55.1" width="4.35" height="139.3"/><rect x="480.64" y="59.36" width="4.35" height="135.04"/><rect x="504.81" y="57.61" width="4.35" height="136.79"/><rect x="528.98" y="58.24" width="4.35" height="136.16"/><rect x="553.15" y="57.61" width="4.35" height="136.79"/><rect x="577.32" y="59.36" width="4.35" height="135.04"/><rect x="601.49" y="55.23" width="4.35" height="139.17"/><rect x="625.66" y="57.36" width="4.35" height="137.04"/><rect x="649.83" y="52.6" width="4.35" height="141.8"/><rect x="590.3" y="12.7" width="12.9" height="7.2"/></g>
<rect x="417" y="6.5" width="265.5" height="187.9" fill="none" stroke="#555" stroke-width="0.7"/>
<path d="M441 194.4v-2.1M441 6.5v2.1M465.17 194.4v-2.1M465.17 6.5v2.1M489.34 194.4v-2.1M489.34 6.5v2.1M513.51 194.4v-2.1M513.51 6.5v2.1M537.68 194.4v-2.1M537.68 6.5v2.1M561.85 194.4v-2.1M561.85 6.5v2.1M586.02 194.4v-2.1M586.02 6.5v2.1M610.19 194.4v-2.1M610.19 6.5v2.1M634.36 194.4v-2.1M634.36 6.5v2.1M658.53 194.4v-2.1M658.53 6.5v2.1M417 194.4h2.1M682.5 194.4h-2.1M417 131.77h2.1M682.5 131.77h-2.1M417 69.13h2.1M682.5 69.13h-2.1M417 6.5h2.1M682.5 6.5h-2.1" stroke="#222" stroke-width="0.55" fill="none"/>
<text class="t" x="441" y="202.1" text-anchor="middle">Bal</text>
<text class="t" x="465.17" y="202.1" text-anchor="middle">Ban</text>
<text class="t" x="489.34" y="202.1" text-anchor="middle">BeZ</text>
<text class="t" x="513.51" y="202.1" text-anchor="middle">BeM</text>
<text class="t" x="537.68" y="202.1" text-anchor="middle">CaB</text>
<text class="t" x="561.85" y="202.1" text-anchor="middle">Cle</text>
<text class="t" x="586.02" y="202.1" text-anchor="middle">Dal</text>
<text class="t" x="610.19" y="202.1" text-anchor="middle">Ieb</text>
<text class="t" x="634.36" y="202.1" text-anchor="middle">Lei</text>
<text class="t" x="658.53" y="202.1" text-anchor="middle">New</text>
<text class="t n" x="414.3" y="196.55" text-anchor="end">0</text>
<text class="t n" x="414.3" y="133.92" text-anchor="end">0.5</text>
<text class="t n" x="414.3" y="71.28" text-anchor="end">1</text>
<text class="t n" x="414.3" y="8.65" text-anchor="end">1.5</text>
<text class="t" x="549.75" y="209" text-anchor="middle">The data set</text>
<text class="t" transform="translate(404.7 100.45) rotate(-90)" text-anchor="middle">The calculated results of <tspan font-style="italic">λ</tspan></text>
<text x="603.9" y="16.2" font-size="4.6" font-style="italic">λ<tspan font-size="3.5" dy="2.8" dx="0.2">L</tspan></text>
<text x="624.6" y="16.2" font-size="4.6" font-style="italic">λ<tspan font-size="3.5" dy="2.8" dx="0.2">I</tspan></text>
<text x="644.8" y="16.2" font-size="4.6" font-style="italic">λ<tspan font-size="3.5" dy="2.8" dx="0.2">II</tspan></text>
<text x="665.9" y="16.2" font-size="4.6" font-style="italic">λ<tspan font-size="3.5" dy="2.8" dx="0.2">Full</tspan></text>
<text class="cap" x="474.8" y="229.9">(b)</text>
<text class="cap" x="494.2" y="229.9">The ratio of path length</text>
</g>
<g>
<path d="M242.1 255.5V443.35M266.82 255.5V443.35M291.53 255.5V443.35M316.25 255.5V443.35M340.96 255.5V443.35M365.68 255.5V443.35M390.4 255.5V443.35M415.11 255.5V443.35M439.83 255.5V443.35M464.54 255.5V443.35M217.75 412.04H488.6M217.75 380.73H488.6M217.75 349.43H488.6M217.75 318.12H488.6M217.75 286.81H488.6" stroke="#d8d8d8" stroke-width="0.45" fill="none"/>
<rect x="393.4" y="260.4" width="90.5" height="9.9" rx="1" fill="#fff" stroke="#333" stroke-width="0.6"/>
<g fill="#fff"><rect x="232.96" y="348.11" width="4.57" height="95.24"/><rect x="257.67" y="320.5" width="4.57" height="122.85"/><rect x="282.39" y="348.3" width="4.57" height="95.05"/><rect x="307.1" y="335.02" width="4.57" height="108.33"/><rect x="331.82" y="338.28" width="4.57" height="105.07"/><rect x="356.54" y="335.46" width="4.57" height="107.89"/><rect x="381.25" y="349.36" width="4.57" height="93.99"/><rect x="405.97" y="325.38" width="4.57" height="117.97"/><rect x="430.68" y="337.47" width="4.57" height="105.88"/><rect x="455.4" y="313.17" width="4.57" height="130.18"/><rect x="395.1" y="262.2" width="12.9" height="6.7"/><rect x="237.53" y="341.16" width="4.57" height="102.19"/><rect x="262.24" y="329.45" width="4.57" height="113.9"/><rect x="286.96" y="336.46" width="4.57" height="106.89"/><rect x="311.68" y="348.3" width="4.57" height="95.05"/><rect x="336.39" y="349.55" width="4.57" height="93.8"/><rect x="361.11" y="355.69" width="4.57" height="87.66"/><rect x="385.82" y="358.94" width="4.57" height="84.41"/><rect x="410.54" y="352.62" width="4.57" height="90.73"/><rect x="435.26" y="348.49" width="4.57" height="94.86"/><rect x="459.97" y="352.18" width="4.57" height="91.17"/><rect x="416.3" y="262.2" width="12.9" height="6.7"/><rect x="242.1" y="335.65" width="4.57" height="107.7"/><rect x="266.82" y="345.48" width="4.57" height="97.87"/><rect x="291.53" y="335.46" width="4.57" height="107.89"/><rect x="316.25" y="344.85" width="4.57" height="98.5"/><rect x="340.96" y="355.87" width="4.57" height="87.48"/><rect x="365.68" y="348.49" width="4.57" height="94.86"/><rect x="390.4" y="346.67" width="4.57" height="96.68"/><rect x="415.11" y="341.35" width="4.57" height="102"/><rect x="439.83" y="346.04" width="4.57" height="97.31"/><rect x="464.54" y="346.29" width="4.57" height="97.06"/><rect x="437.2" y="262.2" width="12.9" height="6.7"/><rect x="246.67" y="343.6" width="4.57" height="99.75"/><rect x="271.39" y="333.14" width="4.57" height="110.21"/><rect x="296.1" y="345.48" width="4.57" height="97.87"/><rect x="320.82" y="333.4" width="4.57" height="109.95"/><rect x="345.54" y="324.38" width="4.57" height="118.97"/><rect x="370.25" y="331.33" width="4.57" height="112.02"/><rect x="394.97" y="343.41" width="4.57" height="99.94"/><rect x="419.68" y="327.26" width="4.57" height="116.09"/><rect x="444.4" y="335.02" width="4.57" height="108.33"/><rect x="469.12" y="311.67" width="4.57" height="131.68"/><rect x="458.3" y="262.2" width="12.9" height="6.7"/></g>
<defs>
<clipPath id="c20"><rect x="232.96" y="348.11" width="4.57" height="95.24"/><rect x="257.67" y="320.5" width="4.57" height="122.85"/><rect x="282.39" y="348.3" width="4.57" height="95.05"/><rect x="307.1" y="335.02" width="4.57" height="108.33"/><rect x="331.82" y="338.28" width="4.57" height="105.07"/><rect x="356.54" y="335.46" width="4.57" height="107.89"/><rect x="381.25" y="349.36" width="4.57" height="93.99"/><rect x="405.97" y="325.38" width="4.57" height="117.97"/><rect x="430.68" y="337.47" width="4.57" height="105.88"/><rect x="455.4" y="313.17" width="4.57" height="130.18"/><rect x="395.1" y="262.2" width="12.9" height="6.7"/></clipPath>
<clipPath id="c21"><rect x="237.53" y="341.16" width="4.57" height="102.19"/><rect x="262.24" y="329.45" width="4.57" height="113.9"/><rect x="286.96" y="336.46" width="4.57" height="106.89"/><rect x="311.68" y="348.3" width="4.57" height="95.05"/><rect x="336.39" y="349.55" width="4.57" height="93.8"/><rect x="361.11" y="355.69" width="4.57" height="87.66"/><rect x="385.82" y="358.94" width="4.57" height="84.41"/><rect x="410.54" y="352.62" width="4.57" height="90.73"/><rect x="435.26" y="348.49" width="4.57" height="94.86"/><rect x="459.97" y="352.18" width="4.57" height="91.17"/><rect x="416.3" y="262.2" width="12.9" height="6.7"/></clipPath>
<clipPath id="c22"><rect x="242.1" y="335.65" width="4.57" height="107.7"/><rect x="266.82" y="345.48" width="4.57" height="97.87"/><rect x="291.53" y="335.46" width="4.57" height="107.89"/><rect x="316.25" y="344.85" width="4.57" height="98.5"/><rect x="340.96" y="355.87" width="4.57" height="87.48"/><rect x="365.68" y="348.49" width="4.57" height="94.86"/><rect x="390.4" y="346.67" width="4.57" height="96.68"/><rect x="415.11" y="341.35" width="4.57" height="102"/><rect x="439.83" y="346.04" width="4.57" height="97.31"/><rect x="464.54" y="346.29" width="4.57" height="97.06"/><rect x="437.2" y="262.2" width="12.9" height="6.7"/></clipPath>
<clipPath id="c23"><rect x="246.67" y="343.6" width="4.57" height="99.75"/><rect x="271.39" y="333.14" width="4.57" height="110.21"/><rect x="296.1" y="345.48" width="4.57" height="97.87"/><rect x="320.82" y="333.4" width="4.57" height="109.95"/><rect x="345.54" y="324.38" width="4.57" height="118.97"/><rect x="370.25" y="331.33" width="4.57" height="112.02"/><rect x="394.97" y="343.41" width="4.57" height="99.94"/><rect x="419.68" y="327.26" width="4.57" height="116.09"/><rect x="444.4" y="335.02" width="4.57" height="108.33"/><rect x="469.12" y="311.67" width="4.57" height="131.68"/><rect x="458.3" y="262.2" width="12.9" height="6.7"/></clipPath>
</defs>
<g clip-path="url(#c20)"><path class="h" stroke-width="0.58" d="M217.75 442.45H488.6M217.75 439.95H488.6M217.75 437.45H488.6M217.75 434.95H488.6M217.75 432.45H488.6M217.75 429.95H488.6M217.75 427.45H488.6M217.75 424.95H488.6M217.75 422.45H488.6M217.75 419.95H488.6M217.75 417.45H488.6M217.75 414.95H488.6M217.75 412.45H488.6M217.75 409.95H488.6M217.75 407.45H488.6M217.75 404.95H488.6M217.75 402.45H488.6M217.75 399.95H488.6M217.75 397.45H488.6M217.75 394.95H488.6M217.75 392.45H488.6M217.75 389.95H488.6M217.75 387.45H488.6M217.75 384.95H488.6M217.75 382.45H488.6M217.75 379.95H488.6M217.75 377.45H488.6M217.75 374.95H488.6M217.75 372.45H488.6M217.75 369.95H488.6M217.75 367.45H488.6M217.75 364.95H488.6M217.75 362.45H488.6M217.75 359.95H488.6M217.75 357.45H488.6M217.75 354.95H488.6M217.75 352.45H488.6M217.75 349.95H488.6M217.75 347.45H488.6M217.75 344.95H488.6M217.75 342.45H488.6M217.75 339.95H488.6M217.75 337.45H488.6M217.75 334.95H488.6M217.75 332.45H488.6M217.75 329.95H488.6M217.75 327.45H488.6M217.75 324.95H488.6M217.75 322.45H488.6M217.75 319.95H488.6M217.75 317.45H488.6M217.75 314.95H488.6M217.75 312.45H488.6M217.75 309.95H488.6M217.75 307.45H488.6M217.75 304.95H488.6M217.75 302.45H488.6M217.75 299.95H488.6M217.75 297.45H488.6M217.75 294.95H488.6M217.75 292.45H488.6M217.75 289.95H488.6M217.75 287.45H488.6M217.75 284.95H488.6M217.75 282.45H488.6M217.75 279.95H488.6M217.75 277.45H488.6M217.75 274.95H488.6M217.75 272.45H488.6M217.75 269.95H488.6M217.75 267.45H488.6M217.75 264.95H488.6M217.75 262.45H488.6"/><path class="h" stroke-width="0.4" d="M235.24 348.11V443.35M259.96 320.5V443.35M284.67 348.3V443.35M309.39 335.02V443.35M334.11 338.28V443.35M358.82 335.46V443.35M383.54 349.36V443.35M408.25 325.38V443.35M432.97 337.47V443.35M457.69 313.17V443.35"/><path class="h" stroke-width="0.6" d="M397.7 262.2V268.9M400.3 262.2V268.9M402.9 262.2V268.9M405.5 262.2V268.9M395.1 266.75H408M395.1 264.25H408"/></g>
<g clip-path="url(#c21)"><path class="h" stroke-width="0.35" d="M35.6 443.35l182.15 -182.15M37.9 443.35l182.15 -182.15M40.2 443.35l182.15 -182.15M42.5 443.35l182.15 -182.15M44.8 443.35l182.15 -182.15M47.1 443.35l182.15 -182.15M49.4 443.35l182.15 -182.15M51.7 443.35l182.15 -182.15M54 443.35l182.15 -182.15M56.3 443.35l182.15 -182.15M58.6 443.35l182.15 -182.15M60.9 443.35l182.15 -182.15M63.2 443.35l182.15 -182.15M65.5 443.35l182.15 -182.15M67.8 443.35l182.15 -182.15M70.1 443.35l182.15 -182.15M72.4 443.35l182.15 -182.15M74.7 443.35l182.15 -182.15M77 443.35l182.15 -182.15M79.3 443.35l182.15 -182.15M81.6 443.35l182.15 -182.15M83.9 443.35l182.15 -182.15M86.2 443.35l182.15 -182.15M88.5 443.35l182.15 -182.15M90.8 443.35l182.15 -182.15M93.1 443.35l182.15 -182.15M95.4 443.35l182.15 -182.15M97.7 443.35l182.15 -182.15M100 443.35l182.15 -182.15M102.3 443.35l182.15 -182.15M104.6 443.35l182.15 -182.15M106.9 443.35l182.15 -182.15M109.2 443.35l182.15 -182.15M111.5 443.35l182.15 -182.15M113.8 443.35l182.15 -182.15M116.1 443.35l182.15 -182.15M118.4 443.35l182.15 -182.15M120.7 443.35l182.15 -182.15M123 443.35l182.15 -182.15M125.3 443.35l182.15 -182.15M127.6 443.35l182.15 -182.15M129.9 443.35l182.15 -182.15M132.2 443.35l182.15 -182.15M134.5 443.35l182.15 -182.15M136.8 443.35l182.15 -182.15M139.1 443.35l182.15 -182.15M141.4 443.35l182.15 -182.15M143.7 443.35l182.15 -182.15M146 443.35l182.15 -182.15M148.3 443.35l182.15 -182.15M150.6 443.35l182.15 -182.15M152.9 443.35l182.15 -182.15M155.2 443.35l182.15 -182.15M157.5 443.35l182.15 -182.15M159.8 443.35l182.15 -182.15M162.1 443.35l182.15 -182.15M164.4 443.35l182.15 -182.15M166.7 443.35l182.15 -182.15M169 443.35l182.15 -182.15M171.3 443.35l182.15 -182.15M173.6 443.35l182.15 -182.15M175.9 443.35l182.15 -182.15M178.2 443.35l182.15 -182.15M180.5 443.35l182.15 -182.15M182.8 443.35l182.15 -182.15M185.1 443.35l182.15 -182.15M187.4 443.35l182.15 -182.15M189.7 443.35l182.15 -182.15M192 443.35l182.15 -182.15M194.3 443.35l182.15 -182.15M196.6 443.35l182.15 -182.15M198.9 443.35l182.15 -182.15M201.2 443.35l182.15 -182.15M203.5 443.35l182.15 -182.15M205.8 443.35l182.15 -182.15M208.1 443.35l182.15 -182.15M210.4 443.35l182.15 -182.15M212.7 443.35l182.15 -182.15M215 443.35l182.15 -182.15M217.3 443.35l182.15 -182.15M219.6 443.35l182.15 -182.15M221.9 443.35l182.15 -182.15M224.2 443.35l182.15 -182.15M226.5 443.35l182.15 -182.15M228.8 443.35l182.15 -182.15M231.1 443.35l182.15 -182.15M233.4 443.35l182.15 -182.15M235.7 443.35l182.15 -182.15M238 443.35l182.15 -182.15M240.3 443.35l182.15 -182.15M242.6 443.35l182.15 -182.15M244.9 443.35l182.15 -182.15M247.2 443.35l182.15 -182.15M249.5 443.35l182.15 -182.15M251.8 443.35l182.15 -182.15M254.1 443.35l182.15 -182.15M256.4 443.35l182.15 -182.15M258.7 443.35l182.15 -182.15M261 443.35l182.15 -182.15M263.3 443.35l182.15 -182.15M265.6 443.35l182.15 -182.15M267.9 443.35l182.15 -182.15M270.2 443.35l182.15 -182.15M272.5 443.35l182.15 -182.15M274.8 443.35l182.15 -182.15M277.1 443.35l182.15 -182.15M279.4 443.35l182.15 -182.15M281.7 443.35l182.15 -182.15M284 443.35l182.15 -182.15M286.3 443.35l182.15 -182.15M288.6 443.35l182.15 -182.15M290.9 443.35l182.15 -182.15M293.2 443.35l182.15 -182.15M295.5 443.35l182.15 -182.15M297.8 443.35l182.15 -182.15M300.1 443.35l182.15 -182.15M302.4 443.35l182.15 -182.15M304.7 443.35l182.15 -182.15M307 443.35l182.15 -182.15M309.3 443.35l182.15 -182.15M311.6 443.35l182.15 -182.15M313.9 443.35l182.15 -182.15M316.2 443.35l182.15 -182.15M318.5 443.35l182.15 -182.15M320.8 443.35l182.15 -182.15M323.1 443.35l182.15 -182.15M325.4 443.35l182.15 -182.15M327.7 443.35l182.15 -182.15M330 443.35l182.15 -182.15M332.3 443.35l182.15 -182.15M334.6 443.35l182.15 -182.15M336.9 443.35l182.15 -182.15M339.2 443.35l182.15 -182.15M341.5 443.35l182.15 -182.15M343.8 443.35l182.15 -182.15M346.1 443.35l182.15 -182.15M348.4 443.35l182.15 -182.15M350.7 443.35l182.15 -182.15M353 443.35l182.15 -182.15M355.3 443.35l182.15 -182.15M357.6 443.35l182.15 -182.15M359.9 443.35l182.15 -182.15M362.2 443.35l182.15 -182.15M364.5 443.35l182.15 -182.15M366.8 443.35l182.15 -182.15M369.1 443.35l182.15 -182.15M371.4 443.35l182.15 -182.15M373.7 443.35l182.15 -182.15M376 443.35l182.15 -182.15M378.3 443.35l182.15 -182.15M380.6 443.35l182.15 -182.15M382.9 443.35l182.15 -182.15M385.2 443.35l182.15 -182.15M387.5 443.35l182.15 -182.15M389.8 443.35l182.15 -182.15M392.1 443.35l182.15 -182.15M394.4 443.35l182.15 -182.15M396.7 443.35l182.15 -182.15M399 443.35l182.15 -182.15M401.3 443.35l182.15 -182.15M403.6 443.35l182.15 -182.15M405.9 443.35l182.15 -182.15M408.2 443.35l182.15 -182.15M410.5 443.35l182.15 -182.15M412.8 443.35l182.15 -182.15M415.1 443.35l182.15 -182.15M417.4 443.35l182.15 -182.15M419.7 443.35l182.15 -182.15M422 443.35l182.15 -182.15M424.3 443.35l182.15 -182.15M426.6 443.35l182.15 -182.15M428.9 443.35l182.15 -182.15M431.2 443.35l182.15 -182.15M433.5 443.35l182.15 -182.15M435.8 443.35l182.15 -182.15M438.1 443.35l182.15 -182.15M440.4 443.35l182.15 -182.15M442.7 443.35l182.15 -182.15M445 443.35l182.15 -182.15M447.3 443.35l182.15 -182.15M449.6 443.35l182.15 -182.15M451.9 443.35l182.15 -182.15M454.2 443.35l182.15 -182.15M456.5 443.35l182.15 -182.15M458.8 443.35l182.15 -182.15M461.1 443.35l182.15 -182.15M463.4 443.35l182.15 -182.15M465.7 443.35l182.15 -182.15M468 443.35l182.15 -182.15M470.3 443.35l182.15 -182.15M472.6 443.35l182.15 -182.15M474.9 443.35l182.15 -182.15M477.2 443.35l182.15 -182.15M479.5 443.35l182.15 -182.15M481.8 443.35l182.15 -182.15M484.1 443.35l182.15 -182.15M486.4 443.35l182.15 -182.15M35.6 261.2l182.15 182.15M37.9 261.2l182.15 182.15M40.2 261.2l182.15 182.15M42.5 261.2l182.15 182.15M44.8 261.2l182.15 182.15M47.1 261.2l182.15 182.15M49.4 261.2l182.15 182.15M51.7 261.2l182.15 182.15M54 261.2l182.15 182.15M56.3 261.2l182.15 182.15M58.6 261.2l182.15 182.15M60.9 261.2l182.15 182.15M63.2 261.2l182.15 182.15M65.5 261.2l182.15 182.15M67.8 261.2l182.15 182.15M70.1 261.2l182.15 182.15M72.4 261.2l182.15 182.15M74.7 261.2l182.15 182.15M77 261.2l182.15 182.15M79.3 261.2l182.15 182.15M81.6 261.2l182.15 182.15M83.9 261.2l182.15 182.15M86.2 261.2l182.15 182.15M88.5 261.2l182.15 182.15M90.8 261.2l182.15 182.15M93.1 261.2l182.15 182.15M95.4 261.2l182.15 182.15M97.7 261.2l182.15 182.15M100 261.2l182.15 182.15M102.3 261.2l182.15 182.15M104.6 261.2l182.15 182.15M106.9 261.2l182.15 182.15M109.2 261.2l182.15 182.15M111.5 261.2l182.15 182.15M113.8 261.2l182.15 182.15M116.1 261.2l182.15 182.15M118.4 261.2l182.15 182.15M120.7 261.2l182.15 182.15M123 261.2l182.15 182.15M125.3 261.2l182.15 182.15M127.6 261.2l182.15 182.15M129.9 261.2l182.15 182.15M132.2 261.2l182.15 182.15M134.5 261.2l182.15 182.15M136.8 261.2l182.15 182.15M139.1 261.2l182.15 182.15M141.4 261.2l182.15 182.15M143.7 261.2l182.15 182.15M146 261.2l182.15 182.15M148.3 261.2l182.15 182.15M150.6 261.2l182.15 182.15M152.9 261.2l182.15 182.15M155.2 261.2l182.15 182.15M157.5 261.2l182.15 182.15M159.8 261.2l182.15 182.15M162.1 261.2l182.15 182.15M164.4 261.2l182.15 182.15M166.7 261.2l182.15 182.15M169 261.2l182.15 182.15M171.3 261.2l182.15 182.15M173.6 261.2l182.15 182.15M175.9 261.2l182.15 182.15M178.2 261.2l182.15 182.15M180.5 261.2l182.15 182.15M182.8 261.2l182.15 182.15M185.1 261.2l182.15 182.15M187.4 261.2l182.15 182.15M189.7 261.2l182.15 182.15M192 261.2l182.15 182.15M194.3 261.2l182.15 182.15M196.6 261.2l182.15 182.15M198.9 261.2l182.15 182.15M201.2 261.2l182.15 182.15M203.5 261.2l182.15 182.15M205.8 261.2l182.15 182.15M208.1 261.2l182.15 182.15M210.4 261.2l182.15 182.15M212.7 261.2l182.15 182.15M215 261.2l182.15 182.15M217.3 261.2l182.15 182.15M219.6 261.2l182.15 182.15M221.9 261.2l182.15 182.15M224.2 261.2l182.15 182.15M226.5 261.2l182.15 182.15M228.8 261.2l182.15 182.15M231.1 261.2l182.15 182.15M233.4 261.2l182.15 182.15M235.7 261.2l182.15 182.15M238 261.2l182.15 182.15M240.3 261.2l182.15 182.15M242.6 261.2l182.15 182.15M244.9 261.2l182.15 182.15M247.2 261.2l182.15 182.15M249.5 261.2l182.15 182.15M251.8 261.2l182.15 182.15M254.1 261.2l182.15 182.15M256.4 261.2l182.15 182.15M258.7 261.2l182.15 182.15M261 261.2l182.15 182.15M263.3 261.2l182.15 182.15M265.6 261.2l182.15 182.15M267.9 261.2l182.15 182.15M270.2 261.2l182.15 182.15M272.5 261.2l182.15 182.15M274.8 261.2l182.15 182.15M277.1 261.2l182.15 182.15M279.4 261.2l182.15 182.15M281.7 261.2l182.15 182.15M284 261.2l182.15 182.15M286.3 261.2l182.15 182.15M288.6 261.2l182.15 182.15M290.9 261.2l182.15 182.15M293.2 261.2l182.15 182.15M295.5 261.2l182.15 182.15M297.8 261.2l182.15 182.15M300.1 261.2l182.15 182.15M302.4 261.2l182.15 182.15M304.7 261.2l182.15 182.15M307 261.2l182.15 182.15M309.3 261.2l182.15 182.15M311.6 261.2l182.15 182.15M313.9 261.2l182.15 182.15M316.2 261.2l182.15 182.15M318.5 261.2l182.15 182.15M320.8 261.2l182.15 182.15M323.1 261.2l182.15 182.15M325.4 261.2l182.15 182.15M327.7 261.2l182.15 182.15M330 261.2l182.15 182.15M332.3 261.2l182.15 182.15M334.6 261.2l182.15 182.15M336.9 261.2l182.15 182.15M339.2 261.2l182.15 182.15M341.5 261.2l182.15 182.15M343.8 261.2l182.15 182.15M346.1 261.2l182.15 182.15M348.4 261.2l182.15 182.15M350.7 261.2l182.15 182.15M353 261.2l182.15 182.15M355.3 261.2l182.15 182.15M357.6 261.2l182.15 182.15M359.9 261.2l182.15 182.15M362.2 261.2l182.15 182.15M364.5 261.2l182.15 182.15M366.8 261.2l182.15 182.15M369.1 261.2l182.15 182.15M371.4 261.2l182.15 182.15M373.7 261.2l182.15 182.15M376 261.2l182.15 182.15M378.3 261.2l182.15 182.15M380.6 261.2l182.15 182.15M382.9 261.2l182.15 182.15M385.2 261.2l182.15 182.15M387.5 261.2l182.15 182.15M389.8 261.2l182.15 182.15M392.1 261.2l182.15 182.15M394.4 261.2l182.15 182.15M396.7 261.2l182.15 182.15M399 261.2l182.15 182.15M401.3 261.2l182.15 182.15M403.6 261.2l182.15 182.15M405.9 261.2l182.15 182.15M408.2 261.2l182.15 182.15M410.5 261.2l182.15 182.15M412.8 261.2l182.15 182.15M415.1 261.2l182.15 182.15M417.4 261.2l182.15 182.15M419.7 261.2l182.15 182.15M422 261.2l182.15 182.15M424.3 261.2l182.15 182.15M426.6 261.2l182.15 182.15M428.9 261.2l182.15 182.15M431.2 261.2l182.15 182.15M433.5 261.2l182.15 182.15M435.8 261.2l182.15 182.15M438.1 261.2l182.15 182.15M440.4 261.2l182.15 182.15M442.7 261.2l182.15 182.15M445 261.2l182.15 182.15M447.3 261.2l182.15 182.15M449.6 261.2l182.15 182.15M451.9 261.2l182.15 182.15M454.2 261.2l182.15 182.15M456.5 261.2l182.15 182.15M458.8 261.2l182.15 182.15M461.1 261.2l182.15 182.15M463.4 261.2l182.15 182.15M465.7 261.2l182.15 182.15M468 261.2l182.15 182.15M470.3 261.2l182.15 182.15M472.6 261.2l182.15 182.15M474.9 261.2l182.15 182.15M477.2 261.2l182.15 182.15M479.5 261.2l182.15 182.15M481.8 261.2l182.15 182.15M484.1 261.2l182.15 182.15M486.4 261.2l182.15 182.15"/></g>
<g clip-path="url(#c22)"><path class="h" stroke-width="0.5" d="M35.6 443.35l182.15 -182.15M37.9 443.35l182.15 -182.15M40.2 443.35l182.15 -182.15M42.5 443.35l182.15 -182.15M44.8 443.35l182.15 -182.15M47.1 443.35l182.15 -182.15M49.4 443.35l182.15 -182.15M51.7 443.35l182.15 -182.15M54 443.35l182.15 -182.15M56.3 443.35l182.15 -182.15M58.6 443.35l182.15 -182.15M60.9 443.35l182.15 -182.15M63.2 443.35l182.15 -182.15M65.5 443.35l182.15 -182.15M67.8 443.35l182.15 -182.15M70.1 443.35l182.15 -182.15M72.4 443.35l182.15 -182.15M74.7 443.35l182.15 -182.15M77 443.35l182.15 -182.15M79.3 443.35l182.15 -182.15M81.6 443.35l182.15 -182.15M83.9 443.35l182.15 -182.15M86.2 443.35l182.15 -182.15M88.5 443.35l182.15 -182.15M90.8 443.35l182.15 -182.15M93.1 443.35l182.15 -182.15M95.4 443.35l182.15 -182.15M97.7 443.35l182.15 -182.15M100 443.35l182.15 -182.15M102.3 443.35l182.15 -182.15M104.6 443.35l182.15 -182.15M106.9 443.35l182.15 -182.15M109.2 443.35l182.15 -182.15M111.5 443.35l182.15 -182.15M113.8 443.35l182.15 -182.15M116.1 443.35l182.15 -182.15M118.4 443.35l182.15 -182.15M120.7 443.35l182.15 -182.15M123 443.35l182.15 -182.15M125.3 443.35l182.15 -182.15M127.6 443.35l182.15 -182.15M129.9 443.35l182.15 -182.15M132.2 443.35l182.15 -182.15M134.5 443.35l182.15 -182.15M136.8 443.35l182.15 -182.15M139.1 443.35l182.15 -182.15M141.4 443.35l182.15 -182.15M143.7 443.35l182.15 -182.15M146 443.35l182.15 -182.15M148.3 443.35l182.15 -182.15M150.6 443.35l182.15 -182.15M152.9 443.35l182.15 -182.15M155.2 443.35l182.15 -182.15M157.5 443.35l182.15 -182.15M159.8 443.35l182.15 -182.15M162.1 443.35l182.15 -182.15M164.4 443.35l182.15 -182.15M166.7 443.35l182.15 -182.15M169 443.35l182.15 -182.15M171.3 443.35l182.15 -182.15M173.6 443.35l182.15 -182.15M175.9 443.35l182.15 -182.15M178.2 443.35l182.15 -182.15M180.5 443.35l182.15 -182.15M182.8 443.35l182.15 -182.15M185.1 443.35l182.15 -182.15M187.4 443.35l182.15 -182.15M189.7 443.35l182.15 -182.15M192 443.35l182.15 -182.15M194.3 443.35l182.15 -182.15M196.6 443.35l182.15 -182.15M198.9 443.35l182.15 -182.15M201.2 443.35l182.15 -182.15M203.5 443.35l182.15 -182.15M205.8 443.35l182.15 -182.15M208.1 443.35l182.15 -182.15M210.4 443.35l182.15 -182.15M212.7 443.35l182.15 -182.15M215 443.35l182.15 -182.15M217.3 443.35l182.15 -182.15M219.6 443.35l182.15 -182.15M221.9 443.35l182.15 -182.15M224.2 443.35l182.15 -182.15M226.5 443.35l182.15 -182.15M228.8 443.35l182.15 -182.15M231.1 443.35l182.15 -182.15M233.4 443.35l182.15 -182.15M235.7 443.35l182.15 -182.15M238 443.35l182.15 -182.15M240.3 443.35l182.15 -182.15M242.6 443.35l182.15 -182.15M244.9 443.35l182.15 -182.15M247.2 443.35l182.15 -182.15M249.5 443.35l182.15 -182.15M251.8 443.35l182.15 -182.15M254.1 443.35l182.15 -182.15M256.4 443.35l182.15 -182.15M258.7 443.35l182.15 -182.15M261 443.35l182.15 -182.15M263.3 443.35l182.15 -182.15M265.6 443.35l182.15 -182.15M267.9 443.35l182.15 -182.15M270.2 443.35l182.15 -182.15M272.5 443.35l182.15 -182.15M274.8 443.35l182.15 -182.15M277.1 443.35l182.15 -182.15M279.4 443.35l182.15 -182.15M281.7 443.35l182.15 -182.15M284 443.35l182.15 -182.15M286.3 443.35l182.15 -182.15M288.6 443.35l182.15 -182.15M290.9 443.35l182.15 -182.15M293.2 443.35l182.15 -182.15M295.5 443.35l182.15 -182.15M297.8 443.35l182.15 -182.15M300.1 443.35l182.15 -182.15M302.4 443.35l182.15 -182.15M304.7 443.35l182.15 -182.15M307 443.35l182.15 -182.15M309.3 443.35l182.15 -182.15M311.6 443.35l182.15 -182.15M313.9 443.35l182.15 -182.15M316.2 443.35l182.15 -182.15M318.5 443.35l182.15 -182.15M320.8 443.35l182.15 -182.15M323.1 443.35l182.15 -182.15M325.4 443.35l182.15 -182.15M327.7 443.35l182.15 -182.15M330 443.35l182.15 -182.15M332.3 443.35l182.15 -182.15M334.6 443.35l182.15 -182.15M336.9 443.35l182.15 -182.15M339.2 443.35l182.15 -182.15M341.5 443.35l182.15 -182.15M343.8 443.35l182.15 -182.15M346.1 443.35l182.15 -182.15M348.4 443.35l182.15 -182.15M350.7 443.35l182.15 -182.15M353 443.35l182.15 -182.15M355.3 443.35l182.15 -182.15M357.6 443.35l182.15 -182.15M359.9 443.35l182.15 -182.15M362.2 443.35l182.15 -182.15M364.5 443.35l182.15 -182.15M366.8 443.35l182.15 -182.15M369.1 443.35l182.15 -182.15M371.4 443.35l182.15 -182.15M373.7 443.35l182.15 -182.15M376 443.35l182.15 -182.15M378.3 443.35l182.15 -182.15M380.6 443.35l182.15 -182.15M382.9 443.35l182.15 -182.15M385.2 443.35l182.15 -182.15M387.5 443.35l182.15 -182.15M389.8 443.35l182.15 -182.15M392.1 443.35l182.15 -182.15M394.4 443.35l182.15 -182.15M396.7 443.35l182.15 -182.15M399 443.35l182.15 -182.15M401.3 443.35l182.15 -182.15M403.6 443.35l182.15 -182.15M405.9 443.35l182.15 -182.15M408.2 443.35l182.15 -182.15M410.5 443.35l182.15 -182.15M412.8 443.35l182.15 -182.15M415.1 443.35l182.15 -182.15M417.4 443.35l182.15 -182.15M419.7 443.35l182.15 -182.15M422 443.35l182.15 -182.15M424.3 443.35l182.15 -182.15M426.6 443.35l182.15 -182.15M428.9 443.35l182.15 -182.15M431.2 443.35l182.15 -182.15M433.5 443.35l182.15 -182.15M435.8 443.35l182.15 -182.15M438.1 443.35l182.15 -182.15M440.4 443.35l182.15 -182.15M442.7 443.35l182.15 -182.15M445 443.35l182.15 -182.15M447.3 443.35l182.15 -182.15M449.6 443.35l182.15 -182.15M451.9 443.35l182.15 -182.15M454.2 443.35l182.15 -182.15M456.5 443.35l182.15 -182.15M458.8 443.35l182.15 -182.15M461.1 443.35l182.15 -182.15M463.4 443.35l182.15 -182.15M465.7 443.35l182.15 -182.15M468 443.35l182.15 -182.15M470.3 443.35l182.15 -182.15M472.6 443.35l182.15 -182.15M474.9 443.35l182.15 -182.15M477.2 443.35l182.15 -182.15M479.5 443.35l182.15 -182.15M481.8 443.35l182.15 -182.15M484.1 443.35l182.15 -182.15M486.4 443.35l182.15 -182.15"/></g>
<g clip-path="url(#c23)"><path class="h" stroke-width="0.5" d="M35.6 261.2l182.15 182.15M37.9 261.2l182.15 182.15M40.2 261.2l182.15 182.15M42.5 261.2l182.15 182.15M44.8 261.2l182.15 182.15M47.1 261.2l182.15 182.15M49.4 261.2l182.15 182.15M51.7 261.2l182.15 182.15M54 261.2l182.15 182.15M56.3 261.2l182.15 182.15M58.6 261.2l182.15 182.15M60.9 261.2l182.15 182.15M63.2 261.2l182.15 182.15M65.5 261.2l182.15 182.15M67.8 261.2l182.15 182.15M70.1 261.2l182.15 182.15M72.4 261.2l182.15 182.15M74.7 261.2l182.15 182.15M77 261.2l182.15 182.15M79.3 261.2l182.15 182.15M81.6 261.2l182.15 182.15M83.9 261.2l182.15 182.15M86.2 261.2l182.15 182.15M88.5 261.2l182.15 182.15M90.8 261.2l182.15 182.15M93.1 261.2l182.15 182.15M95.4 261.2l182.15 182.15M97.7 261.2l182.15 182.15M100 261.2l182.15 182.15M102.3 261.2l182.15 182.15M104.6 261.2l182.15 182.15M106.9 261.2l182.15 182.15M109.2 261.2l182.15 182.15M111.5 261.2l182.15 182.15M113.8 261.2l182.15 182.15M116.1 261.2l182.15 182.15M118.4 261.2l182.15 182.15M120.7 261.2l182.15 182.15M123 261.2l182.15 182.15M125.3 261.2l182.15 182.15M127.6 261.2l182.15 182.15M129.9 261.2l182.15 182.15M132.2 261.2l182.15 182.15M134.5 261.2l182.15 182.15M136.8 261.2l182.15 182.15M139.1 261.2l182.15 182.15M141.4 261.2l182.15 182.15M143.7 261.2l182.15 182.15M146 261.2l182.15 182.15M148.3 261.2l182.15 182.15M150.6 261.2l182.15 182.15M152.9 261.2l182.15 182.15M155.2 261.2l182.15 182.15M157.5 261.2l182.15 182.15M159.8 261.2l182.15 182.15M162.1 261.2l182.15 182.15M164.4 261.2l182.15 182.15M166.7 261.2l182.15 182.15M169 261.2l182.15 182.15M171.3 261.2l182.15 182.15M173.6 261.2l182.15 182.15M175.9 261.2l182.15 182.15M178.2 261.2l182.15 182.15M180.5 261.2l182.15 182.15M182.8 261.2l182.15 182.15M185.1 261.2l182.15 182.15M187.4 261.2l182.15 182.15M189.7 261.2l182.15 182.15M192 261.2l182.15 182.15M194.3 261.2l182.15 182.15M196.6 261.2l182.15 182.15M198.9 261.2l182.15 182.15M201.2 261.2l182.15 182.15M203.5 261.2l182.15 182.15M205.8 261.2l182.15 182.15M208.1 261.2l182.15 182.15M210.4 261.2l182.15 182.15M212.7 261.2l182.15 182.15M215 261.2l182.15 182.15M217.3 261.2l182.15 182.15M219.6 261.2l182.15 182.15M221.9 261.2l182.15 182.15M224.2 261.2l182.15 182.15M226.5 261.2l182.15 182.15M228.8 261.2l182.15 182.15M231.1 261.2l182.15 182.15M233.4 261.2l182.15 182.15M235.7 261.2l182.15 182.15M238 261.2l182.15 182.15M240.3 261.2l182.15 182.15M242.6 261.2l182.15 182.15M244.9 261.2l182.15 182.15M247.2 261.2l182.15 182.15M249.5 261.2l182.15 182.15M251.8 261.2l182.15 182.15M254.1 261.2l182.15 182.15M256.4 261.2l182.15 182.15M258.7 261.2l182.15 182.15M261 261.2l182.15 182.15M263.3 261.2l182.15 182.15M265.6 261.2l182.15 182.15M267.9 261.2l182.15 182.15M270.2 261.2l182.15 182.15M272.5 261.2l182.15 182.15M274.8 261.2l182.15 182.15M277.1 261.2l182.15 182.15M279.4 261.2l182.15 182.15M281.7 261.2l182.15 182.15M284 261.2l182.15 182.15M286.3 261.2l182.15 182.15M288.6 261.2l182.15 182.15M290.9 261.2l182.15 182.15M293.2 261.2l182.15 182.15M295.5 261.2l182.15 182.15M297.8 261.2l182.15 182.15M300.1 261.2l182.15 182.15M302.4 261.2l182.15 182.15M304.7 261.2l182.15 182.15M307 261.2l182.15 182.15M309.3 261.2l182.15 182.15M311.6 261.2l182.15 182.15M313.9 261.2l182.15 182.15M316.2 261.2l182.15 182.15M318.5 261.2l182.15 182.15M320.8 261.2l182.15 182.15M323.1 261.2l182.15 182.15M325.4 261.2l182.15 182.15M327.7 261.2l182.15 182.15M330 261.2l182.15 182.15M332.3 261.2l182.15 182.15M334.6 261.2l182.15 182.15M336.9 261.2l182.15 182.15M339.2 261.2l182.15 182.15M341.5 261.2l182.15 182.15M343.8 261.2l182.15 182.15M346.1 261.2l182.15 182.15M348.4 261.2l182.15 182.15M350.7 261.2l182.15 182.15M353 261.2l182.15 182.15M355.3 261.2l182.15 182.15M357.6 261.2l182.15 182.15M359.9 261.2l182.15 182.15M362.2 261.2l182.15 182.15M364.5 261.2l182.15 182.15M366.8 261.2l182.15 182.15M369.1 261.2l182.15 182.15M371.4 261.2l182.15 182.15M373.7 261.2l182.15 182.15M376 261.2l182.15 182.15M378.3 261.2l182.15 182.15M380.6 261.2l182.15 182.15M382.9 261.2l182.15 182.15M385.2 261.2l182.15 182.15M387.5 261.2l182.15 182.15M389.8 261.2l182.15 182.15M392.1 261.2l182.15 182.15M394.4 261.2l182.15 182.15M396.7 261.2l182.15 182.15M399 261.2l182.15 182.15M401.3 261.2l182.15 182.15M403.6 261.2l182.15 182.15M405.9 261.2l182.15 182.15M408.2 261.2l182.15 182.15M410.5 261.2l182.15 182.15M412.8 261.2l182.15 182.15M415.1 261.2l182.15 182.15M417.4 261.2l182.15 182.15M419.7 261.2l182.15 182.15M422 261.2l182.15 182.15M424.3 261.2l182.15 182.15M426.6 261.2l182.15 182.15M428.9 261.2l182.15 182.15M431.2 261.2l182.15 182.15M433.5 261.2l182.15 182.15M435.8 261.2l182.15 182.15M438.1 261.2l182.15 182.15M440.4 261.2l182.15 182.15M442.7 261.2l182.15 182.15M445 261.2l182.15 182.15M447.3 261.2l182.15 182.15M449.6 261.2l182.15 182.15M451.9 261.2l182.15 182.15M454.2 261.2l182.15 182.15M456.5 261.2l182.15 182.15M458.8 261.2l182.15 182.15M461.1 261.2l182.15 182.15M463.4 261.2l182.15 182.15M465.7 261.2l182.15 182.15M468 261.2l182.15 182.15M470.3 261.2l182.15 182.15M472.6 261.2l182.15 182.15M474.9 261.2l182.15 182.15M477.2 261.2l182.15 182.15M479.5 261.2l182.15 182.15M481.8 261.2l182.15 182.15M484.1 261.2l182.15 182.15M486.4 261.2l182.15 182.15"/></g>
<g fill="none" stroke="#000" stroke-width="0.35"><rect x="232.96" y="348.11" width="4.57" height="95.24"/><rect x="257.67" y="320.5" width="4.57" height="122.85"/><rect x="282.39" y="348.3" width="4.57" height="95.05"/><rect x="307.1" y="335.02" width="4.57" height="108.33"/><rect x="331.82" y="338.28" width="4.57" height="105.07"/><rect x="356.54" y="335.46" width="4.57" height="107.89"/><rect x="381.25" y="349.36" width="4.57" height="93.99"/><rect x="405.97" y="325.38" width="4.57" height="117.97"/><rect x="430.68" y="337.47" width="4.57" height="105.88"/><rect x="455.4" y="313.17" width="4.57" height="130.18"/><rect x="395.1" y="262.2" width="12.9" height="6.7"/><rect x="237.53" y="341.16" width="4.57" height="102.19"/><rect x="262.24" y="329.45" width="4.57" height="113.9"/><rect x="286.96" y="336.46" width="4.57" height="106.89"/><rect x="311.68" y="348.3" width="4.57" height="95.05"/><rect x="336.39" y="349.55" width="4.57" height="93.8"/><rect x="361.11" y="355.69" width="4.57" height="87.66"/><rect x="385.82" y="358.94" width="4.57" height="84.41"/><rect x="410.54" y="352.62" width="4.57" height="90.73"/><rect x="435.26" y="348.49" width="4.57" height="94.86"/><rect x="459.97" y="352.18" width="4.57" height="91.17"/><rect x="416.3" y="262.2" width="12.9" height="6.7"/><rect x="242.1" y="335.65" width="4.57" height="107.7"/><rect x="266.82" y="345.48" width="4.57" height="97.87"/><rect x="291.53" y="335.46" width="4.57" height="107.89"/><rect x="316.25" y="344.85" width="4.57" height="98.5"/><rect x="340.96" y="355.87" width="4.57" height="87.48"/><rect x="365.68" y="348.49" width="4.57" height="94.86"/><rect x="390.4" y="346.67" width="4.57" height="96.68"/><rect x="415.11" y="341.35" width="4.57" height="102"/><rect x="439.83" y="346.04" width="4.57" height="97.31"/><rect x="464.54" y="346.29" width="4.57" height="97.06"/><rect x="437.2" y="262.2" width="12.9" height="6.7"/><rect x="246.67" y="343.6" width="4.57" height="99.75"/><rect x="271.39" y="333.14" width="4.57" height="110.21"/><rect x="296.1" y="345.48" width="4.57" height="97.87"/><rect x="320.82" y="333.4" width="4.57" height="109.95"/><rect x="345.54" y="324.38" width="4.57" height="118.97"/><rect x="370.25" y="331.33" width="4.57" height="112.02"/><rect x="394.97" y="343.41" width="4.57" height="99.94"/><rect x="419.68" y="327.26" width="4.57" height="116.09"/><rect x="444.4" y="335.02" width="4.57" height="108.33"/><rect x="469.12" y="311.67" width="4.57" height="131.68"/><rect x="458.3" y="262.2" width="12.9" height="6.7"/></g>
<g fill="none" stroke="#000" stroke-width="0.3"><rect x="395.1" y="262.2" width="12.9" height="6.7"/><rect x="416.3" y="262.2" width="12.9" height="6.7"/><rect x="437.2" y="262.2" width="12.9" height="6.7"/><rect x="458.3" y="262.2" width="12.9" height="6.7"/></g>
<g fill="none" stroke="#000" stroke-width="0.22"><rect x="232.96" y="348.11" width="4.57" height="95.24"/><rect x="257.67" y="320.5" width="4.57" height="122.85"/><rect x="282.39" y="348.3" width="4.57" height="95.05"/><rect x="307.1" y="335.02" width="4.57" height="108.33"/><rect x="331.82" y="338.28" width="4.57" height="105.07"/><rect x="356.54" y="335.46" width="4.57" height="107.89"/><rect x="381.25" y="349.36" width="4.57" height="93.99"/><rect x="405.97" y="325.38" width="4.57" height="117.97"/><rect x="430.68" y="337.47" width="4.57" height="105.88"/><rect x="455.4" y="313.17" width="4.57" height="130.18"/><rect x="395.1" y="262.2" width="12.9" height="6.7"/></g>
<rect x="217.75" y="255.5" width="270.85" height="187.85" fill="none" stroke="#555" stroke-width="0.7"/>
<path d="M242.1 443.35v-2.1M242.1 255.5v2.1M266.82 443.35v-2.1M266.82 255.5v2.1M291.53 443.35v-2.1M291.53 255.5v2.1M316.25 443.35v-2.1M316.25 255.5v2.1M340.96 443.35v-2.1M340.96 255.5v2.1M365.68 443.35v-2.1M365.68 255.5v2.1M390.4 443.35v-2.1M390.4 255.5v2.1M415.11 443.35v-2.1M415.11 255.5v2.1M439.83 443.35v-2.1M439.83 255.5v2.1M464.54 443.35v-2.1M464.54 255.5v2.1M217.75 443.35h2.1M488.6 443.35h-2.1M217.75 412.04h2.1M488.6 412.04h-2.1M217.75 380.73h2.1M488.6 380.73h-2.1M217.75 349.43h2.1M488.6 349.43h-2.1M217.75 318.12h2.1M488.6 318.12h-2.1M217.75 286.81h2.1M488.6 286.81h-2.1M217.75 255.5h2.1M488.6 255.5h-2.1" stroke="#222" stroke-width="0.55" fill="none"/>
<text class="t" x="242.1" y="451.05" text-anchor="middle">Bal</text>
<text class="t" x="266.82" y="451.05" text-anchor="middle">Ban</text>
<text class="t" x="291.53" y="451.05" text-anchor="middle">BeZ</text>
<text class="t" x="316.25" y="451.05" text-anchor="middle">BeM</text>
<text class="t" x="340.96" y="451.05" text-anchor="middle">CaB</text>
<text class="t" x="365.68" y="451.05" text-anchor="middle">Cle</text>
<text class="t" x="390.4" y="451.05" text-anchor="middle">Dal</text>
<text class="t" x="415.11" y="451.05" text-anchor="middle">Ieb</text>
<text class="t" x="439.83" y="451.05" text-anchor="middle">Lei</text>
<text class="t" x="464.54" y="451.05" text-anchor="middle">New</text>
<text class="t n" x="215.05" y="445.5" text-anchor="end">0</text>
<text class="t n" x="215.05" y="414.19" text-anchor="end">0.5</text>
<text class="t n" x="215.05" y="382.88" text-anchor="end">1</text>
<text class="t n" x="215.05" y="351.57" text-anchor="end">1.5</text>
<text class="t n" x="215.05" y="320.27" text-anchor="end">2</text>
<text class="t n" x="215.05" y="288.96" text-anchor="end">2.5</text>
<text class="t n" x="215.05" y="257.65" text-anchor="end">3</text>
<text class="t" x="353.18" y="457.95" text-anchor="middle">The data set</text>
<text class="t" transform="translate(206.45 349.43) rotate(-90)" text-anchor="middle">The calculated results of <tspan font-style="italic">σ</tspan></text>
<text x="408.7" y="266.2" font-size="4.6" font-style="italic">σ<tspan font-size="3.5" dy="2.1" dx="0.2">L</tspan></text>
<text x="429.9" y="266.2" font-size="4.6" font-style="italic">σ<tspan font-size="3.5" dy="2.1" dx="0.2">I</tspan></text>
<text x="450.8" y="266.2" font-size="4.6" font-style="italic">σ<tspan font-size="3.5" dy="2.1" dx="0.2">II</tspan></text>
<text x="471.9" y="266.2" font-size="4.6" font-style="italic">σ<tspan font-size="3.5" dy="2.1" dx="0.2">Full</tspan></text>
<text class="cap" x="230.6" y="478.5">(c)</text>
<text class="cap" x="249.6" y="478.5" word-spacing="0.45">A scalar summary ratio of small-worldness</text>
</g>
</svg></body></html>
